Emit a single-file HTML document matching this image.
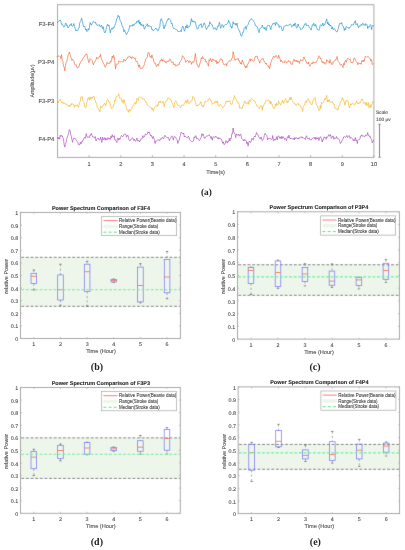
<!DOCTYPE html>
<html><head><meta charset="utf-8"><style>html,body{margin:0;padding:0;background:#fff;}svg{display:block;}text{text-rendering:geometricPrecision;}</style></head>
<body><svg width="405" height="550" viewBox="0 0 405 550">
<defs><filter id="bl" filterUnits="userSpaceOnUse" x="0" y="0" width="405" height="550" color-interpolation-filters="sRGB"><feConvolveMatrix order="3" kernelMatrix="1 10 1 10 100 10 1 10 1" edgeMode="duplicate"/></filter></defs>
<rect width="405" height="550" fill="#fff"/>
<g filter="url(#bl)">
<rect x="57.5" y="4.7" width="316.4" height="152.70000000000002" fill="none" stroke="#aaaaaa" stroke-width="1"/>
<line x1="89.14" y1="157.4" x2="89.14" y2="155.20000000000002" stroke="#a2a2a2" stroke-width="0.8"/>
<line x1="120.78" y1="157.4" x2="120.78" y2="155.20000000000002" stroke="#a2a2a2" stroke-width="0.8"/>
<line x1="152.42" y1="157.4" x2="152.42" y2="155.20000000000002" stroke="#a2a2a2" stroke-width="0.8"/>
<line x1="184.06" y1="157.4" x2="184.06" y2="155.20000000000002" stroke="#a2a2a2" stroke-width="0.8"/>
<line x1="215.70" y1="157.4" x2="215.70" y2="155.20000000000002" stroke="#a2a2a2" stroke-width="0.8"/>
<line x1="247.34" y1="157.4" x2="247.34" y2="155.20000000000002" stroke="#a2a2a2" stroke-width="0.8"/>
<line x1="278.98" y1="157.4" x2="278.98" y2="155.20000000000002" stroke="#a2a2a2" stroke-width="0.8"/>
<line x1="310.62" y1="157.4" x2="310.62" y2="155.20000000000002" stroke="#a2a2a2" stroke-width="0.8"/>
<line x1="342.26" y1="157.4" x2="342.26" y2="155.20000000000002" stroke="#a2a2a2" stroke-width="0.8"/>
<line x1="373.90" y1="157.4" x2="373.90" y2="155.20000000000002" stroke="#a2a2a2" stroke-width="0.8"/>
<line x1="379.5" y1="124.3" x2="379.5" y2="157.3" stroke="#777" stroke-width="0.9"/>
<line x1="378.2" y1="124.3" x2="380.8" y2="124.3" stroke="#777" stroke-width="0.8"/>
<line x1="378.2" y1="157.3" x2="380.8" y2="157.3" stroke="#777" stroke-width="0.8"/>
<rect x="20.5" y="257.3" width="159.9" height="49.0" fill="#eef6eb"/>
<line x1="20.5" y1="257.3" x2="180.4" y2="257.3" stroke="#7a7a7a" stroke-width="0.9" stroke-dasharray="2.9,1.73" stroke-dashoffset="-0.8"/>
<line x1="20.5" y1="306.3" x2="180.4" y2="306.3" stroke="#7a7a7a" stroke-width="0.9" stroke-dasharray="2.9,1.73" stroke-dashoffset="-0.8"/>
<line x1="33.83" y1="270" x2="33.83" y2="273.3" stroke="#8a8a8a" stroke-width="0.7" stroke-dasharray="2.2,2.2"/>
<line x1="33.83" y1="283.6" x2="33.83" y2="290" stroke="#8a8a8a" stroke-width="0.7" stroke-dasharray="2.2,2.2"/>
<line x1="32.62" y1="270" x2="35.03" y2="270" stroke="#444" stroke-width="0.6"/>
<line x1="32.62" y1="290" x2="35.03" y2="290" stroke="#444" stroke-width="0.6"/>
<rect x="31.03" y="273.3" width="5.6" height="10.30" fill="none" stroke="#7c7cf6" stroke-width="0.75"/>
<line x1="31.03" y1="276.3" x2="36.62" y2="276.3" stroke="#f27a60" stroke-width="0.9"/>
<line x1="60.48" y1="264.2" x2="60.48" y2="274.9" stroke="#8a8a8a" stroke-width="0.7" stroke-dasharray="2.2,2.2"/>
<line x1="60.48" y1="300" x2="60.48" y2="305.3" stroke="#8a8a8a" stroke-width="0.7" stroke-dasharray="2.2,2.2"/>
<line x1="59.27" y1="264.2" x2="61.68" y2="264.2" stroke="#444" stroke-width="0.6"/>
<line x1="59.27" y1="305.3" x2="61.68" y2="305.3" stroke="#444" stroke-width="0.6"/>
<rect x="57.68" y="274.9" width="5.6" height="25.10" fill="none" stroke="#7c7cf6" stroke-width="0.75"/>
<line x1="57.68" y1="289.7" x2="63.27" y2="289.7" stroke="#f27a60" stroke-width="0.9"/>
<line x1="87.12" y1="261.3" x2="87.12" y2="264.2" stroke="#8a8a8a" stroke-width="0.7" stroke-dasharray="2.2,2.2"/>
<line x1="87.12" y1="291.5" x2="87.12" y2="306" stroke="#8a8a8a" stroke-width="0.7" stroke-dasharray="2.2,2.2"/>
<line x1="85.92" y1="261.3" x2="88.33" y2="261.3" stroke="#444" stroke-width="0.6"/>
<line x1="85.92" y1="306" x2="88.33" y2="306" stroke="#444" stroke-width="0.6"/>
<rect x="84.33" y="264.2" width="5.6" height="27.30" fill="none" stroke="#7c7cf6" stroke-width="0.75"/>
<line x1="84.33" y1="271.7" x2="89.92" y2="271.7" stroke="#f27a60" stroke-width="0.9"/>
<line x1="113.78" y1="279" x2="113.78" y2="279.5" stroke="#8a8a8a" stroke-width="0.7" stroke-dasharray="2.2,2.2"/>
<line x1="113.78" y1="281.9" x2="113.78" y2="282.5" stroke="#8a8a8a" stroke-width="0.7" stroke-dasharray="2.2,2.2"/>
<line x1="112.58" y1="279" x2="114.98" y2="279" stroke="#444" stroke-width="0.6"/>
<line x1="112.58" y1="282.5" x2="114.98" y2="282.5" stroke="#444" stroke-width="0.6"/>
<rect x="110.98" y="279.5" width="5.6" height="2.40" fill="none" stroke="#7c7cf6" stroke-width="0.75"/>
<line x1="110.98" y1="280.5" x2="116.58" y2="280.5" stroke="#f27a60" stroke-width="0.9"/>
<line x1="140.43" y1="263.7" x2="140.43" y2="267.1" stroke="#8a8a8a" stroke-width="0.7" stroke-dasharray="2.2,2.2"/>
<line x1="140.43" y1="301.9" x2="140.43" y2="302.8" stroke="#8a8a8a" stroke-width="0.7" stroke-dasharray="2.2,2.2"/>
<line x1="139.23" y1="263.7" x2="141.62" y2="263.7" stroke="#444" stroke-width="0.6"/>
<line x1="139.23" y1="302.8" x2="141.62" y2="302.8" stroke="#444" stroke-width="0.6"/>
<rect x="137.62" y="267.1" width="5.6" height="34.80" fill="none" stroke="#7c7cf6" stroke-width="0.75"/>
<line x1="137.62" y1="285.5" x2="143.23" y2="285.5" stroke="#f27a60" stroke-width="0.9"/>
<line x1="167.08" y1="251.5" x2="167.08" y2="259.4" stroke="#8a8a8a" stroke-width="0.7" stroke-dasharray="2.2,2.2"/>
<line x1="167.08" y1="292.8" x2="167.08" y2="298.7" stroke="#8a8a8a" stroke-width="0.7" stroke-dasharray="2.2,2.2"/>
<line x1="165.88" y1="251.5" x2="168.28" y2="251.5" stroke="#444" stroke-width="0.6"/>
<line x1="165.88" y1="298.7" x2="168.28" y2="298.7" stroke="#444" stroke-width="0.6"/>
<rect x="164.28" y="259.4" width="5.6" height="33.40" fill="none" stroke="#7c7cf6" stroke-width="0.75"/>
<line x1="164.28" y1="277" x2="169.88" y2="277" stroke="#f27a60" stroke-width="0.9"/>
<line x1="20.5" y1="289.7" x2="180.4" y2="289.7" stroke="#74eaa0" stroke-width="1.15" stroke-dasharray="2.9,1.73" stroke-dashoffset="-0.6"/>
<rect x="20.5" y="212.4" width="159.9" height="126.1" fill="none" stroke="#a2a2a2" stroke-width="0.9"/>
<line x1="20.5" y1="338.50" x2="22.0" y2="338.50" stroke="#a2a2a2" stroke-width="0.6"/>
<line x1="180.4" y1="338.50" x2="178.9" y2="338.50" stroke="#a2a2a2" stroke-width="0.6"/>
<line x1="20.5" y1="325.89" x2="22.0" y2="325.89" stroke="#a2a2a2" stroke-width="0.6"/>
<line x1="180.4" y1="325.89" x2="178.9" y2="325.89" stroke="#a2a2a2" stroke-width="0.6"/>
<line x1="20.5" y1="313.28" x2="22.0" y2="313.28" stroke="#a2a2a2" stroke-width="0.6"/>
<line x1="180.4" y1="313.28" x2="178.9" y2="313.28" stroke="#a2a2a2" stroke-width="0.6"/>
<line x1="20.5" y1="300.67" x2="22.0" y2="300.67" stroke="#a2a2a2" stroke-width="0.6"/>
<line x1="180.4" y1="300.67" x2="178.9" y2="300.67" stroke="#a2a2a2" stroke-width="0.6"/>
<line x1="20.5" y1="288.06" x2="22.0" y2="288.06" stroke="#a2a2a2" stroke-width="0.6"/>
<line x1="180.4" y1="288.06" x2="178.9" y2="288.06" stroke="#a2a2a2" stroke-width="0.6"/>
<line x1="20.5" y1="275.45" x2="22.0" y2="275.45" stroke="#a2a2a2" stroke-width="0.6"/>
<line x1="180.4" y1="275.45" x2="178.9" y2="275.45" stroke="#a2a2a2" stroke-width="0.6"/>
<line x1="20.5" y1="262.84" x2="22.0" y2="262.84" stroke="#a2a2a2" stroke-width="0.6"/>
<line x1="180.4" y1="262.84" x2="178.9" y2="262.84" stroke="#a2a2a2" stroke-width="0.6"/>
<line x1="20.5" y1="250.23" x2="22.0" y2="250.23" stroke="#a2a2a2" stroke-width="0.6"/>
<line x1="180.4" y1="250.23" x2="178.9" y2="250.23" stroke="#a2a2a2" stroke-width="0.6"/>
<line x1="20.5" y1="237.62" x2="22.0" y2="237.62" stroke="#a2a2a2" stroke-width="0.6"/>
<line x1="180.4" y1="237.62" x2="178.9" y2="237.62" stroke="#a2a2a2" stroke-width="0.6"/>
<line x1="20.5" y1="225.01" x2="22.0" y2="225.01" stroke="#a2a2a2" stroke-width="0.6"/>
<line x1="180.4" y1="225.01" x2="178.9" y2="225.01" stroke="#a2a2a2" stroke-width="0.6"/>
<line x1="20.5" y1="212.40" x2="22.0" y2="212.40" stroke="#a2a2a2" stroke-width="0.6"/>
<line x1="180.4" y1="212.40" x2="178.9" y2="212.40" stroke="#a2a2a2" stroke-width="0.6"/>
<line x1="33.83" y1="338.5" x2="33.83" y2="337.0" stroke="#a2a2a2" stroke-width="0.6"/>
<line x1="33.83" y1="212.4" x2="33.83" y2="213.9" stroke="#a2a2a2" stroke-width="0.6"/>
<line x1="60.48" y1="338.5" x2="60.48" y2="337.0" stroke="#a2a2a2" stroke-width="0.6"/>
<line x1="60.48" y1="212.4" x2="60.48" y2="213.9" stroke="#a2a2a2" stroke-width="0.6"/>
<line x1="87.12" y1="338.5" x2="87.12" y2="337.0" stroke="#a2a2a2" stroke-width="0.6"/>
<line x1="87.12" y1="212.4" x2="87.12" y2="213.9" stroke="#a2a2a2" stroke-width="0.6"/>
<line x1="113.78" y1="338.5" x2="113.78" y2="337.0" stroke="#a2a2a2" stroke-width="0.6"/>
<line x1="113.78" y1="212.4" x2="113.78" y2="213.9" stroke="#a2a2a2" stroke-width="0.6"/>
<line x1="140.43" y1="338.5" x2="140.43" y2="337.0" stroke="#a2a2a2" stroke-width="0.6"/>
<line x1="140.43" y1="212.4" x2="140.43" y2="213.9" stroke="#a2a2a2" stroke-width="0.6"/>
<line x1="167.08" y1="338.5" x2="167.08" y2="337.0" stroke="#a2a2a2" stroke-width="0.6"/>
<line x1="167.08" y1="212.4" x2="167.08" y2="213.9" stroke="#a2a2a2" stroke-width="0.6"/>
<rect x="101.70" y="216.50" width="75.0" height="19.2" fill="#fff" stroke="#9a9a9a" stroke-width="0.6"/>
<line x1="103.40" y1="220.60" x2="117.70" y2="220.60" stroke="#f06060" stroke-width="0.8"/>
<rect x="103.40" y="224.60" width="14.3" height="3.6" fill="#eef6eb"/>
<line x1="103.40" y1="232.20" x2="117.70" y2="232.20" stroke="#58e486" stroke-width="1.0" stroke-dasharray="3,2.2"/>
<rect x="237.5" y="264.75" width="161.89999999999998" height="30.55000000000001" fill="#eef6eb"/>
<line x1="237.5" y1="264.75" x2="399.4" y2="264.75" stroke="#7a7a7a" stroke-width="0.9" stroke-dasharray="2.9,1.73" stroke-dashoffset="-0.8"/>
<line x1="237.5" y1="295.3" x2="399.4" y2="295.3" stroke="#7a7a7a" stroke-width="0.9" stroke-dasharray="2.9,1.73" stroke-dashoffset="-0.8"/>
<line x1="250.99" y1="267.2" x2="250.99" y2="267.6" stroke="#8a8a8a" stroke-width="0.7" stroke-dasharray="2.2,2.2"/>
<line x1="250.99" y1="283.4" x2="250.99" y2="294.5" stroke="#8a8a8a" stroke-width="0.7" stroke-dasharray="2.2,2.2"/>
<line x1="249.79" y1="267.2" x2="252.19" y2="267.2" stroke="#444" stroke-width="0.6"/>
<line x1="249.79" y1="294.5" x2="252.19" y2="294.5" stroke="#444" stroke-width="0.6"/>
<rect x="248.19" y="267.6" width="5.6" height="15.80" fill="none" stroke="#7c7cf6" stroke-width="0.75"/>
<line x1="248.19" y1="270.5" x2="253.79" y2="270.5" stroke="#f27a60" stroke-width="0.9"/>
<line x1="277.98" y1="260.2" x2="277.98" y2="261" stroke="#8a8a8a" stroke-width="0.7" stroke-dasharray="2.2,2.2"/>
<line x1="277.98" y1="286.5" x2="277.98" y2="288.3" stroke="#8a8a8a" stroke-width="0.7" stroke-dasharray="2.2,2.2"/>
<line x1="276.78" y1="260.2" x2="279.18" y2="260.2" stroke="#444" stroke-width="0.6"/>
<line x1="276.78" y1="288.3" x2="279.18" y2="288.3" stroke="#444" stroke-width="0.6"/>
<rect x="275.18" y="261" width="5.6" height="25.50" fill="none" stroke="#7c7cf6" stroke-width="0.75"/>
<line x1="275.18" y1="272.5" x2="280.78" y2="272.5" stroke="#f27a60" stroke-width="0.9"/>
<line x1="304.96" y1="263.7" x2="304.96" y2="267.6" stroke="#8a8a8a" stroke-width="0.7" stroke-dasharray="2.2,2.2"/>
<line x1="304.96" y1="281.4" x2="304.96" y2="285.9" stroke="#8a8a8a" stroke-width="0.7" stroke-dasharray="2.2,2.2"/>
<line x1="303.76" y1="263.7" x2="306.16" y2="263.7" stroke="#444" stroke-width="0.6"/>
<line x1="303.76" y1="285.9" x2="306.16" y2="285.9" stroke="#444" stroke-width="0.6"/>
<rect x="302.16" y="267.6" width="5.6" height="13.80" fill="none" stroke="#7c7cf6" stroke-width="0.75"/>
<line x1="302.16" y1="274" x2="307.76" y2="274" stroke="#f27a60" stroke-width="0.9"/>
<line x1="331.94" y1="263.9" x2="331.94" y2="271.1" stroke="#8a8a8a" stroke-width="0.7" stroke-dasharray="2.2,2.2"/>
<line x1="331.94" y1="285.2" x2="331.94" y2="287.3" stroke="#8a8a8a" stroke-width="0.7" stroke-dasharray="2.2,2.2"/>
<line x1="330.74" y1="263.9" x2="333.14" y2="263.9" stroke="#444" stroke-width="0.6"/>
<line x1="330.74" y1="287.3" x2="333.14" y2="287.3" stroke="#444" stroke-width="0.6"/>
<rect x="329.14" y="271.1" width="5.6" height="14.10" fill="none" stroke="#7c7cf6" stroke-width="0.75"/>
<line x1="329.14" y1="281.1" x2="334.74" y2="281.1" stroke="#f27a60" stroke-width="0.9"/>
<line x1="358.92" y1="285.5" x2="358.92" y2="288.9" stroke="#8a8a8a" stroke-width="0.7" stroke-dasharray="2.2,2.2"/>
<line x1="357.72" y1="277.3" x2="360.12" y2="277.3" stroke="#444" stroke-width="0.6"/>
<line x1="357.72" y1="288.9" x2="360.12" y2="288.9" stroke="#444" stroke-width="0.6"/>
<rect x="356.12" y="277.3" width="5.6" height="8.20" fill="none" stroke="#7c7cf6" stroke-width="0.75"/>
<line x1="356.12" y1="279.9" x2="361.72" y2="279.9" stroke="#f27a60" stroke-width="0.9"/>
<line x1="385.91" y1="259.6" x2="385.91" y2="263.3" stroke="#8a8a8a" stroke-width="0.7" stroke-dasharray="2.2,2.2"/>
<line x1="385.91" y1="279.3" x2="385.91" y2="282.4" stroke="#8a8a8a" stroke-width="0.7" stroke-dasharray="2.2,2.2"/>
<line x1="384.71" y1="259.6" x2="387.11" y2="259.6" stroke="#444" stroke-width="0.6"/>
<line x1="384.71" y1="282.4" x2="387.11" y2="282.4" stroke="#444" stroke-width="0.6"/>
<rect x="383.11" y="263.3" width="5.6" height="16.00" fill="none" stroke="#7c7cf6" stroke-width="0.75"/>
<line x1="383.11" y1="270.5" x2="388.71" y2="270.5" stroke="#f27a60" stroke-width="0.9"/>
<line x1="237.5" y1="276.8" x2="399.4" y2="276.8" stroke="#74eaa0" stroke-width="1.15" stroke-dasharray="2.9,1.73" stroke-dashoffset="-0.6"/>
<rect x="237.5" y="211.8" width="161.89999999999998" height="127.30000000000001" fill="none" stroke="#a2a2a2" stroke-width="0.9"/>
<line x1="237.5" y1="339.10" x2="239.0" y2="339.10" stroke="#a2a2a2" stroke-width="0.6"/>
<line x1="399.4" y1="339.10" x2="397.9" y2="339.10" stroke="#a2a2a2" stroke-width="0.6"/>
<line x1="237.5" y1="326.37" x2="239.0" y2="326.37" stroke="#a2a2a2" stroke-width="0.6"/>
<line x1="399.4" y1="326.37" x2="397.9" y2="326.37" stroke="#a2a2a2" stroke-width="0.6"/>
<line x1="237.5" y1="313.64" x2="239.0" y2="313.64" stroke="#a2a2a2" stroke-width="0.6"/>
<line x1="399.4" y1="313.64" x2="397.9" y2="313.64" stroke="#a2a2a2" stroke-width="0.6"/>
<line x1="237.5" y1="300.91" x2="239.0" y2="300.91" stroke="#a2a2a2" stroke-width="0.6"/>
<line x1="399.4" y1="300.91" x2="397.9" y2="300.91" stroke="#a2a2a2" stroke-width="0.6"/>
<line x1="237.5" y1="288.18" x2="239.0" y2="288.18" stroke="#a2a2a2" stroke-width="0.6"/>
<line x1="399.4" y1="288.18" x2="397.9" y2="288.18" stroke="#a2a2a2" stroke-width="0.6"/>
<line x1="237.5" y1="275.45" x2="239.0" y2="275.45" stroke="#a2a2a2" stroke-width="0.6"/>
<line x1="399.4" y1="275.45" x2="397.9" y2="275.45" stroke="#a2a2a2" stroke-width="0.6"/>
<line x1="237.5" y1="262.72" x2="239.0" y2="262.72" stroke="#a2a2a2" stroke-width="0.6"/>
<line x1="399.4" y1="262.72" x2="397.9" y2="262.72" stroke="#a2a2a2" stroke-width="0.6"/>
<line x1="237.5" y1="249.99" x2="239.0" y2="249.99" stroke="#a2a2a2" stroke-width="0.6"/>
<line x1="399.4" y1="249.99" x2="397.9" y2="249.99" stroke="#a2a2a2" stroke-width="0.6"/>
<line x1="237.5" y1="237.26" x2="239.0" y2="237.26" stroke="#a2a2a2" stroke-width="0.6"/>
<line x1="399.4" y1="237.26" x2="397.9" y2="237.26" stroke="#a2a2a2" stroke-width="0.6"/>
<line x1="237.5" y1="224.53" x2="239.0" y2="224.53" stroke="#a2a2a2" stroke-width="0.6"/>
<line x1="399.4" y1="224.53" x2="397.9" y2="224.53" stroke="#a2a2a2" stroke-width="0.6"/>
<line x1="237.5" y1="211.80" x2="239.0" y2="211.80" stroke="#a2a2a2" stroke-width="0.6"/>
<line x1="399.4" y1="211.80" x2="397.9" y2="211.80" stroke="#a2a2a2" stroke-width="0.6"/>
<line x1="250.99" y1="339.1" x2="250.99" y2="337.6" stroke="#a2a2a2" stroke-width="0.6"/>
<line x1="250.99" y1="211.8" x2="250.99" y2="213.3" stroke="#a2a2a2" stroke-width="0.6"/>
<line x1="277.98" y1="339.1" x2="277.98" y2="337.6" stroke="#a2a2a2" stroke-width="0.6"/>
<line x1="277.98" y1="211.8" x2="277.98" y2="213.3" stroke="#a2a2a2" stroke-width="0.6"/>
<line x1="304.96" y1="339.1" x2="304.96" y2="337.6" stroke="#a2a2a2" stroke-width="0.6"/>
<line x1="304.96" y1="211.8" x2="304.96" y2="213.3" stroke="#a2a2a2" stroke-width="0.6"/>
<line x1="331.94" y1="339.1" x2="331.94" y2="337.6" stroke="#a2a2a2" stroke-width="0.6"/>
<line x1="331.94" y1="211.8" x2="331.94" y2="213.3" stroke="#a2a2a2" stroke-width="0.6"/>
<line x1="358.92" y1="339.1" x2="358.92" y2="337.6" stroke="#a2a2a2" stroke-width="0.6"/>
<line x1="358.92" y1="211.8" x2="358.92" y2="213.3" stroke="#a2a2a2" stroke-width="0.6"/>
<line x1="385.91" y1="339.1" x2="385.91" y2="337.6" stroke="#a2a2a2" stroke-width="0.6"/>
<line x1="385.91" y1="211.8" x2="385.91" y2="213.3" stroke="#a2a2a2" stroke-width="0.6"/>
<rect x="320.70" y="215.90" width="75.0" height="19.2" fill="#fff" stroke="#9a9a9a" stroke-width="0.6"/>
<line x1="322.40" y1="220.00" x2="336.70" y2="220.00" stroke="#f06060" stroke-width="0.8"/>
<rect x="322.40" y="224.00" width="14.3" height="3.6" fill="#eef6eb"/>
<line x1="322.40" y1="231.60" x2="336.70" y2="231.60" stroke="#58e486" stroke-width="1.0" stroke-dasharray="3,2.2"/>
<rect x="20.5" y="437.9" width="159.8" height="40.5" fill="#eef6eb"/>
<line x1="20.5" y1="437.9" x2="180.3" y2="437.9" stroke="#7a7a7a" stroke-width="0.9" stroke-dasharray="2.9,1.73" stroke-dashoffset="-0.8"/>
<line x1="20.5" y1="478.4" x2="180.3" y2="478.4" stroke="#7a7a7a" stroke-width="0.9" stroke-dasharray="2.9,1.73" stroke-dashoffset="-0.8"/>
<line x1="33.82" y1="449.3" x2="33.82" y2="451.5" stroke="#8a8a8a" stroke-width="0.7" stroke-dasharray="2.2,2.2"/>
<line x1="33.82" y1="468.7" x2="33.82" y2="475.6" stroke="#8a8a8a" stroke-width="0.7" stroke-dasharray="2.2,2.2"/>
<line x1="32.62" y1="449.3" x2="35.02" y2="449.3" stroke="#444" stroke-width="0.6"/>
<line x1="32.62" y1="475.6" x2="35.02" y2="475.6" stroke="#444" stroke-width="0.6"/>
<rect x="31.02" y="451.5" width="5.6" height="17.20" fill="none" stroke="#7c7cf6" stroke-width="0.75"/>
<line x1="31.02" y1="457.2" x2="36.62" y2="457.2" stroke="#f27a60" stroke-width="0.9"/>
<line x1="60.45" y1="444" x2="60.45" y2="445.3" stroke="#8a8a8a" stroke-width="0.7" stroke-dasharray="2.2,2.2"/>
<line x1="60.45" y1="458.4" x2="60.45" y2="460.8" stroke="#8a8a8a" stroke-width="0.7" stroke-dasharray="2.2,2.2"/>
<line x1="59.25" y1="444" x2="61.65" y2="444" stroke="#444" stroke-width="0.6"/>
<line x1="59.25" y1="460.8" x2="61.65" y2="460.8" stroke="#444" stroke-width="0.6"/>
<rect x="57.65" y="445.3" width="5.6" height="13.10" fill="none" stroke="#7c7cf6" stroke-width="0.75"/>
<line x1="57.65" y1="450.5" x2="63.25" y2="450.5" stroke="#f27a60" stroke-width="0.9"/>
<line x1="87.08" y1="442.2" x2="87.08" y2="442.6" stroke="#8a8a8a" stroke-width="0.7" stroke-dasharray="2.2,2.2"/>
<line x1="87.08" y1="454.2" x2="87.08" y2="454.8" stroke="#8a8a8a" stroke-width="0.7" stroke-dasharray="2.2,2.2"/>
<line x1="85.88" y1="442.2" x2="88.28" y2="442.2" stroke="#444" stroke-width="0.6"/>
<line x1="85.88" y1="454.8" x2="88.28" y2="454.8" stroke="#444" stroke-width="0.6"/>
<rect x="84.28" y="442.6" width="5.6" height="11.60" fill="none" stroke="#7c7cf6" stroke-width="0.75"/>
<line x1="84.28" y1="448" x2="89.88" y2="448" stroke="#f27a60" stroke-width="0.9"/>
<line x1="113.72" y1="447" x2="113.72" y2="447.4" stroke="#8a8a8a" stroke-width="0.7" stroke-dasharray="2.2,2.2"/>
<line x1="113.72" y1="450.7" x2="113.72" y2="451.2" stroke="#8a8a8a" stroke-width="0.7" stroke-dasharray="2.2,2.2"/>
<line x1="112.52" y1="447" x2="114.92" y2="447" stroke="#444" stroke-width="0.6"/>
<line x1="112.52" y1="451.2" x2="114.92" y2="451.2" stroke="#444" stroke-width="0.6"/>
<rect x="110.92" y="447.4" width="5.6" height="3.30" fill="none" stroke="#7c7cf6" stroke-width="0.75"/>
<line x1="110.92" y1="448.8" x2="116.52" y2="448.8" stroke="#f27a60" stroke-width="0.9"/>
<line x1="140.35" y1="435.5" x2="140.35" y2="440.7" stroke="#8a8a8a" stroke-width="0.7" stroke-dasharray="2.2,2.2"/>
<line x1="140.35" y1="451.25" x2="140.35" y2="454.2" stroke="#8a8a8a" stroke-width="0.7" stroke-dasharray="2.2,2.2"/>
<line x1="139.15" y1="435.5" x2="141.55" y2="435.5" stroke="#444" stroke-width="0.6"/>
<line x1="139.15" y1="454.2" x2="141.55" y2="454.2" stroke="#444" stroke-width="0.6"/>
<rect x="137.55" y="440.7" width="5.6" height="10.55" fill="none" stroke="#7c7cf6" stroke-width="0.75"/>
<line x1="137.55" y1="447.2" x2="143.15" y2="447.2" stroke="#f27a60" stroke-width="0.9"/>
<line x1="166.98" y1="427.6" x2="166.98" y2="429.5" stroke="#8a8a8a" stroke-width="0.7" stroke-dasharray="2.2,2.2"/>
<line x1="166.98" y1="450.2" x2="166.98" y2="454" stroke="#8a8a8a" stroke-width="0.7" stroke-dasharray="2.2,2.2"/>
<line x1="165.78" y1="427.6" x2="168.18" y2="427.6" stroke="#444" stroke-width="0.6"/>
<line x1="165.78" y1="454" x2="168.18" y2="454" stroke="#444" stroke-width="0.6"/>
<rect x="164.18" y="429.5" width="5.6" height="20.70" fill="none" stroke="#7c7cf6" stroke-width="0.75"/>
<line x1="164.18" y1="438.5" x2="169.78" y2="438.5" stroke="#f27a60" stroke-width="0.9"/>
<line x1="20.5" y1="454.2" x2="180.3" y2="454.2" stroke="#74eaa0" stroke-width="1.15" stroke-dasharray="2.9,1.73" stroke-dashoffset="-0.6"/>
<rect x="20.5" y="387.5" width="159.8" height="125.79999999999995" fill="none" stroke="#a2a2a2" stroke-width="0.9"/>
<line x1="20.5" y1="513.30" x2="22.0" y2="513.30" stroke="#a2a2a2" stroke-width="0.6"/>
<line x1="180.3" y1="513.30" x2="178.8" y2="513.30" stroke="#a2a2a2" stroke-width="0.6"/>
<line x1="20.5" y1="500.72" x2="22.0" y2="500.72" stroke="#a2a2a2" stroke-width="0.6"/>
<line x1="180.3" y1="500.72" x2="178.8" y2="500.72" stroke="#a2a2a2" stroke-width="0.6"/>
<line x1="20.5" y1="488.14" x2="22.0" y2="488.14" stroke="#a2a2a2" stroke-width="0.6"/>
<line x1="180.3" y1="488.14" x2="178.8" y2="488.14" stroke="#a2a2a2" stroke-width="0.6"/>
<line x1="20.5" y1="475.56" x2="22.0" y2="475.56" stroke="#a2a2a2" stroke-width="0.6"/>
<line x1="180.3" y1="475.56" x2="178.8" y2="475.56" stroke="#a2a2a2" stroke-width="0.6"/>
<line x1="20.5" y1="462.98" x2="22.0" y2="462.98" stroke="#a2a2a2" stroke-width="0.6"/>
<line x1="180.3" y1="462.98" x2="178.8" y2="462.98" stroke="#a2a2a2" stroke-width="0.6"/>
<line x1="20.5" y1="450.40" x2="22.0" y2="450.40" stroke="#a2a2a2" stroke-width="0.6"/>
<line x1="180.3" y1="450.40" x2="178.8" y2="450.40" stroke="#a2a2a2" stroke-width="0.6"/>
<line x1="20.5" y1="437.82" x2="22.0" y2="437.82" stroke="#a2a2a2" stroke-width="0.6"/>
<line x1="180.3" y1="437.82" x2="178.8" y2="437.82" stroke="#a2a2a2" stroke-width="0.6"/>
<line x1="20.5" y1="425.24" x2="22.0" y2="425.24" stroke="#a2a2a2" stroke-width="0.6"/>
<line x1="180.3" y1="425.24" x2="178.8" y2="425.24" stroke="#a2a2a2" stroke-width="0.6"/>
<line x1="20.5" y1="412.66" x2="22.0" y2="412.66" stroke="#a2a2a2" stroke-width="0.6"/>
<line x1="180.3" y1="412.66" x2="178.8" y2="412.66" stroke="#a2a2a2" stroke-width="0.6"/>
<line x1="20.5" y1="400.08" x2="22.0" y2="400.08" stroke="#a2a2a2" stroke-width="0.6"/>
<line x1="180.3" y1="400.08" x2="178.8" y2="400.08" stroke="#a2a2a2" stroke-width="0.6"/>
<line x1="20.5" y1="387.50" x2="22.0" y2="387.50" stroke="#a2a2a2" stroke-width="0.6"/>
<line x1="180.3" y1="387.50" x2="178.8" y2="387.50" stroke="#a2a2a2" stroke-width="0.6"/>
<line x1="33.82" y1="513.3" x2="33.82" y2="511.79999999999995" stroke="#a2a2a2" stroke-width="0.6"/>
<line x1="33.82" y1="387.5" x2="33.82" y2="389.0" stroke="#a2a2a2" stroke-width="0.6"/>
<line x1="60.45" y1="513.3" x2="60.45" y2="511.79999999999995" stroke="#a2a2a2" stroke-width="0.6"/>
<line x1="60.45" y1="387.5" x2="60.45" y2="389.0" stroke="#a2a2a2" stroke-width="0.6"/>
<line x1="87.08" y1="513.3" x2="87.08" y2="511.79999999999995" stroke="#a2a2a2" stroke-width="0.6"/>
<line x1="87.08" y1="387.5" x2="87.08" y2="389.0" stroke="#a2a2a2" stroke-width="0.6"/>
<line x1="113.72" y1="513.3" x2="113.72" y2="511.79999999999995" stroke="#a2a2a2" stroke-width="0.6"/>
<line x1="113.72" y1="387.5" x2="113.72" y2="389.0" stroke="#a2a2a2" stroke-width="0.6"/>
<line x1="140.35" y1="513.3" x2="140.35" y2="511.79999999999995" stroke="#a2a2a2" stroke-width="0.6"/>
<line x1="140.35" y1="387.5" x2="140.35" y2="389.0" stroke="#a2a2a2" stroke-width="0.6"/>
<line x1="166.98" y1="513.3" x2="166.98" y2="511.79999999999995" stroke="#a2a2a2" stroke-width="0.6"/>
<line x1="166.98" y1="387.5" x2="166.98" y2="389.0" stroke="#a2a2a2" stroke-width="0.6"/>
<rect x="101.60" y="391.60" width="75.0" height="19.2" fill="#fff" stroke="#9a9a9a" stroke-width="0.6"/>
<line x1="103.30" y1="395.70" x2="117.60" y2="395.70" stroke="#f06060" stroke-width="0.8"/>
<rect x="103.30" y="399.70" width="14.3" height="3.6" fill="#eef6eb"/>
<line x1="103.30" y1="407.30" x2="117.60" y2="407.30" stroke="#58e486" stroke-width="1.0" stroke-dasharray="3,2.2"/>
<rect x="238.15" y="444.4" width="161.45000000000002" height="24.850000000000023" fill="#eef6eb"/>
<line x1="238.15" y1="444.4" x2="399.6" y2="444.4" stroke="#7a7a7a" stroke-width="0.9" stroke-dasharray="2.9,1.73" stroke-dashoffset="-0.8"/>
<line x1="238.15" y1="469.25" x2="399.6" y2="469.25" stroke="#7a7a7a" stroke-width="0.9" stroke-dasharray="2.9,1.73" stroke-dashoffset="-0.8"/>
<line x1="251.60" y1="442.4" x2="251.60" y2="444.3" stroke="#8a8a8a" stroke-width="0.7" stroke-dasharray="2.2,2.2"/>
<line x1="251.60" y1="470.2" x2="251.60" y2="481.5" stroke="#8a8a8a" stroke-width="0.7" stroke-dasharray="2.2,2.2"/>
<line x1="250.40" y1="442.4" x2="252.80" y2="442.4" stroke="#444" stroke-width="0.6"/>
<line x1="250.40" y1="481.5" x2="252.80" y2="481.5" stroke="#444" stroke-width="0.6"/>
<rect x="248.80" y="444.3" width="5.6" height="25.90" fill="none" stroke="#7c7cf6" stroke-width="0.75"/>
<line x1="248.80" y1="452.6" x2="254.40" y2="452.6" stroke="#f27a60" stroke-width="0.9"/>
<line x1="278.51" y1="424.3" x2="278.51" y2="430.4" stroke="#8a8a8a" stroke-width="0.7" stroke-dasharray="2.2,2.2"/>
<line x1="278.51" y1="446.8" x2="278.51" y2="447.5" stroke="#8a8a8a" stroke-width="0.7" stroke-dasharray="2.2,2.2"/>
<line x1="277.31" y1="424.3" x2="279.71" y2="424.3" stroke="#444" stroke-width="0.6"/>
<line x1="277.31" y1="447.5" x2="279.71" y2="447.5" stroke="#444" stroke-width="0.6"/>
<rect x="275.71" y="430.4" width="5.6" height="16.40" fill="none" stroke="#7c7cf6" stroke-width="0.75"/>
<line x1="275.71" y1="441.3" x2="281.31" y2="441.3" stroke="#f27a60" stroke-width="0.9"/>
<line x1="305.42" y1="445.1" x2="305.42" y2="449.9" stroke="#8a8a8a" stroke-width="0.7" stroke-dasharray="2.2,2.2"/>
<line x1="305.42" y1="458.9" x2="305.42" y2="461.5" stroke="#8a8a8a" stroke-width="0.7" stroke-dasharray="2.2,2.2"/>
<line x1="304.22" y1="445.1" x2="306.62" y2="445.1" stroke="#444" stroke-width="0.6"/>
<line x1="304.22" y1="461.5" x2="306.62" y2="461.5" stroke="#444" stroke-width="0.6"/>
<rect x="302.62" y="449.9" width="5.6" height="9.00" fill="none" stroke="#7c7cf6" stroke-width="0.75"/>
<line x1="302.62" y1="455.4" x2="308.22" y2="455.4" stroke="#f27a60" stroke-width="0.9"/>
<line x1="332.33" y1="431.5" x2="332.33" y2="441.7" stroke="#8a8a8a" stroke-width="0.7" stroke-dasharray="2.2,2.2"/>
<line x1="332.33" y1="460.5" x2="332.33" y2="463.1" stroke="#8a8a8a" stroke-width="0.7" stroke-dasharray="2.2,2.2"/>
<line x1="331.13" y1="431.5" x2="333.53" y2="431.5" stroke="#444" stroke-width="0.6"/>
<line x1="331.13" y1="463.1" x2="333.53" y2="463.1" stroke="#444" stroke-width="0.6"/>
<rect x="329.53" y="441.7" width="5.6" height="18.80" fill="none" stroke="#7c7cf6" stroke-width="0.75"/>
<line x1="329.53" y1="454.6" x2="335.13" y2="454.6" stroke="#f27a60" stroke-width="0.9"/>
<line x1="359.24" y1="439.4" x2="359.24" y2="444.1" stroke="#8a8a8a" stroke-width="0.7" stroke-dasharray="2.2,2.2"/>
<line x1="359.24" y1="458.9" x2="359.24" y2="466.4" stroke="#8a8a8a" stroke-width="0.7" stroke-dasharray="2.2,2.2"/>
<line x1="358.04" y1="439.4" x2="360.44" y2="439.4" stroke="#444" stroke-width="0.6"/>
<line x1="358.04" y1="466.4" x2="360.44" y2="466.4" stroke="#444" stroke-width="0.6"/>
<rect x="356.44" y="444.1" width="5.6" height="14.80" fill="none" stroke="#7c7cf6" stroke-width="0.75"/>
<line x1="356.44" y1="450.2" x2="362.04" y2="450.2" stroke="#f27a60" stroke-width="0.9"/>
<line x1="386.15" y1="442" x2="386.15" y2="443.1" stroke="#8a8a8a" stroke-width="0.7" stroke-dasharray="2.2,2.2"/>
<line x1="386.15" y1="452.2" x2="386.15" y2="456" stroke="#8a8a8a" stroke-width="0.7" stroke-dasharray="2.2,2.2"/>
<line x1="384.95" y1="442" x2="387.35" y2="442" stroke="#444" stroke-width="0.6"/>
<line x1="384.95" y1="456" x2="387.35" y2="456" stroke="#444" stroke-width="0.6"/>
<rect x="383.35" y="443.1" width="5.6" height="9.10" fill="none" stroke="#7c7cf6" stroke-width="0.75"/>
<line x1="383.35" y1="446.1" x2="388.95" y2="446.1" stroke="#f27a60" stroke-width="0.9"/>
<line x1="238.15" y1="452.9" x2="399.6" y2="452.9" stroke="#74eaa0" stroke-width="1.15" stroke-dasharray="2.9,1.73" stroke-dashoffset="-0.6"/>
<rect x="238.15" y="386.9" width="161.45000000000002" height="126.70000000000005" fill="none" stroke="#a2a2a2" stroke-width="0.9"/>
<line x1="238.15" y1="513.60" x2="239.65" y2="513.60" stroke="#a2a2a2" stroke-width="0.6"/>
<line x1="399.6" y1="513.60" x2="398.1" y2="513.60" stroke="#a2a2a2" stroke-width="0.6"/>
<line x1="238.15" y1="500.93" x2="239.65" y2="500.93" stroke="#a2a2a2" stroke-width="0.6"/>
<line x1="399.6" y1="500.93" x2="398.1" y2="500.93" stroke="#a2a2a2" stroke-width="0.6"/>
<line x1="238.15" y1="488.26" x2="239.65" y2="488.26" stroke="#a2a2a2" stroke-width="0.6"/>
<line x1="399.6" y1="488.26" x2="398.1" y2="488.26" stroke="#a2a2a2" stroke-width="0.6"/>
<line x1="238.15" y1="475.59" x2="239.65" y2="475.59" stroke="#a2a2a2" stroke-width="0.6"/>
<line x1="399.6" y1="475.59" x2="398.1" y2="475.59" stroke="#a2a2a2" stroke-width="0.6"/>
<line x1="238.15" y1="462.92" x2="239.65" y2="462.92" stroke="#a2a2a2" stroke-width="0.6"/>
<line x1="399.6" y1="462.92" x2="398.1" y2="462.92" stroke="#a2a2a2" stroke-width="0.6"/>
<line x1="238.15" y1="450.25" x2="239.65" y2="450.25" stroke="#a2a2a2" stroke-width="0.6"/>
<line x1="399.6" y1="450.25" x2="398.1" y2="450.25" stroke="#a2a2a2" stroke-width="0.6"/>
<line x1="238.15" y1="437.58" x2="239.65" y2="437.58" stroke="#a2a2a2" stroke-width="0.6"/>
<line x1="399.6" y1="437.58" x2="398.1" y2="437.58" stroke="#a2a2a2" stroke-width="0.6"/>
<line x1="238.15" y1="424.91" x2="239.65" y2="424.91" stroke="#a2a2a2" stroke-width="0.6"/>
<line x1="399.6" y1="424.91" x2="398.1" y2="424.91" stroke="#a2a2a2" stroke-width="0.6"/>
<line x1="238.15" y1="412.24" x2="239.65" y2="412.24" stroke="#a2a2a2" stroke-width="0.6"/>
<line x1="399.6" y1="412.24" x2="398.1" y2="412.24" stroke="#a2a2a2" stroke-width="0.6"/>
<line x1="238.15" y1="399.57" x2="239.65" y2="399.57" stroke="#a2a2a2" stroke-width="0.6"/>
<line x1="399.6" y1="399.57" x2="398.1" y2="399.57" stroke="#a2a2a2" stroke-width="0.6"/>
<line x1="238.15" y1="386.90" x2="239.65" y2="386.90" stroke="#a2a2a2" stroke-width="0.6"/>
<line x1="399.6" y1="386.90" x2="398.1" y2="386.90" stroke="#a2a2a2" stroke-width="0.6"/>
<line x1="251.60" y1="513.6" x2="251.60" y2="512.1" stroke="#a2a2a2" stroke-width="0.6"/>
<line x1="251.60" y1="386.9" x2="251.60" y2="388.4" stroke="#a2a2a2" stroke-width="0.6"/>
<line x1="278.51" y1="513.6" x2="278.51" y2="512.1" stroke="#a2a2a2" stroke-width="0.6"/>
<line x1="278.51" y1="386.9" x2="278.51" y2="388.4" stroke="#a2a2a2" stroke-width="0.6"/>
<line x1="305.42" y1="513.6" x2="305.42" y2="512.1" stroke="#a2a2a2" stroke-width="0.6"/>
<line x1="305.42" y1="386.9" x2="305.42" y2="388.4" stroke="#a2a2a2" stroke-width="0.6"/>
<line x1="332.33" y1="513.6" x2="332.33" y2="512.1" stroke="#a2a2a2" stroke-width="0.6"/>
<line x1="332.33" y1="386.9" x2="332.33" y2="388.4" stroke="#a2a2a2" stroke-width="0.6"/>
<line x1="359.24" y1="513.6" x2="359.24" y2="512.1" stroke="#a2a2a2" stroke-width="0.6"/>
<line x1="359.24" y1="386.9" x2="359.24" y2="388.4" stroke="#a2a2a2" stroke-width="0.6"/>
<line x1="386.15" y1="513.6" x2="386.15" y2="512.1" stroke="#a2a2a2" stroke-width="0.6"/>
<line x1="386.15" y1="386.9" x2="386.15" y2="388.4" stroke="#a2a2a2" stroke-width="0.6"/>
<rect x="320.90" y="391.00" width="75.0" height="19.2" fill="#fff" stroke="#9a9a9a" stroke-width="0.6"/>
<line x1="322.60" y1="395.10" x2="336.90" y2="395.10" stroke="#f06060" stroke-width="0.8"/>
<rect x="322.60" y="399.10" width="14.3" height="3.6" fill="#eef6eb"/>
<line x1="322.60" y1="406.70" x2="336.90" y2="406.70" stroke="#58e486" stroke-width="1.0" stroke-dasharray="3,2.2"/>
</g>
<text x="89.14" y="166.3" font-size="5.6" text-anchor="middle" fill="#484848" font-family="Liberation Sans, Arial, sans-serif" stroke="#666" stroke-width="0.12">1</text>
<text x="120.78" y="166.3" font-size="5.6" text-anchor="middle" fill="#484848" font-family="Liberation Sans, Arial, sans-serif" stroke="#666" stroke-width="0.12">2</text>
<text x="152.42" y="166.3" font-size="5.6" text-anchor="middle" fill="#484848" font-family="Liberation Sans, Arial, sans-serif" stroke="#666" stroke-width="0.12">3</text>
<text x="184.06" y="166.3" font-size="5.6" text-anchor="middle" fill="#484848" font-family="Liberation Sans, Arial, sans-serif" stroke="#666" stroke-width="0.12">4</text>
<text x="215.70" y="166.3" font-size="5.6" text-anchor="middle" fill="#484848" font-family="Liberation Sans, Arial, sans-serif" stroke="#666" stroke-width="0.12">5</text>
<text x="247.34" y="166.3" font-size="5.6" text-anchor="middle" fill="#484848" font-family="Liberation Sans, Arial, sans-serif" stroke="#666" stroke-width="0.12">6</text>
<text x="278.98" y="166.3" font-size="5.6" text-anchor="middle" fill="#484848" font-family="Liberation Sans, Arial, sans-serif" stroke="#666" stroke-width="0.12">7</text>
<text x="310.62" y="166.3" font-size="5.6" text-anchor="middle" fill="#484848" font-family="Liberation Sans, Arial, sans-serif" stroke="#666" stroke-width="0.12">8</text>
<text x="342.26" y="166.3" font-size="5.6" text-anchor="middle" fill="#484848" font-family="Liberation Sans, Arial, sans-serif" stroke="#666" stroke-width="0.12">9</text>
<text x="373.90" y="166.3" font-size="5.6" text-anchor="middle" fill="#484848" font-family="Liberation Sans, Arial, sans-serif" stroke="#666" stroke-width="0.12">10</text>
<text x="215.6" y="174.3" font-size="5.6" text-anchor="middle" fill="#484848" font-family="Liberation Sans, Arial, sans-serif" stroke="#666" stroke-width="0.12">Time(s)</text>
<text x="54.3" y="26.2" font-size="5.85" text-anchor="end" fill="#484848" font-family="Liberation Sans, Arial, sans-serif" stroke="#666" stroke-width="0.12">F3-F4</text>
<text x="54.3" y="64.1" font-size="5.85" text-anchor="end" fill="#484848" font-family="Liberation Sans, Arial, sans-serif" stroke="#666" stroke-width="0.12">P3-P4</text>
<text x="54.3" y="102.6" font-size="5.85" text-anchor="end" fill="#484848" font-family="Liberation Sans, Arial, sans-serif" stroke="#666" stroke-width="0.12">F3-P3</text>
<text x="54.3" y="140.8" font-size="5.85" text-anchor="end" fill="#484848" font-family="Liberation Sans, Arial, sans-serif" stroke="#666" stroke-width="0.12">F4-P4</text>
<text transform="translate(34.4,81) rotate(-90)" x="0" y="0" font-size="5.3" text-anchor="middle" fill="#484848" font-family="Liberation Sans, Arial, sans-serif" stroke="#666" stroke-width="0.12">Amplitude(µv)</text>
<text x="375.9" y="114.1" font-size="4.85" fill="#484848" font-family="Liberation Sans, Arial, sans-serif" stroke="#666" stroke-width="0.12">Scale</text>
<text x="376.0" y="121.2" font-size="4.85" fill="#484848" font-family="Liberation Sans, Arial, sans-serif" stroke="#666" stroke-width="0.12">100 µv</text>
<text x="206.4" y="195.4" font-size="9.3" font-weight="bold" text-anchor="middle" fill="#222" font-family="Liberation Serif, serif">(a)</text>
<polyline points="57.0,22.4 57.6,22.5 58.3,21.7 58.9,20.8 59.6,20.9 60.2,19.9 60.9,21.6 61.5,24.4 62.2,23.7 62.8,24.9 63.5,26.8 64.1,27.2 64.8,26.3 65.4,23.1 66.1,23.3 66.7,25.8 67.4,25.2 68.0,28.0 68.7,27.1 69.3,26.4 70.0,24.5 70.6,25.3 71.3,23.5 71.9,26.0 72.6,26.4 73.2,25.7 73.9,23.5 74.5,26.7 75.2,28.9 75.8,30.9 76.5,30.0 77.1,31.1 77.8,30.4 78.4,28.2 79.1,28.0 79.7,23.2 80.4,21.4 81.0,20.3 81.7,18.1 82.3,21.3 83.0,24.2 83.6,26.9 84.3,26.0 84.9,26.9 85.6,30.1 86.2,29.0 86.9,31.6 87.5,30.8 88.2,28.7 88.8,30.2 89.5,26.9 90.1,22.6 90.8,24.3 91.4,25.3 92.1,23.4 92.7,23.0 93.4,21.3 94.0,21.6 94.7,22.5 95.3,22.0 96.0,24.2 96.6,24.0 97.3,25.6 97.9,25.2 98.6,25.2 99.2,24.6 99.9,26.3 100.5,27.1 101.2,25.2 101.8,26.4 102.5,28.6 103.1,26.5 103.8,30.2 104.4,32.5 105.1,32.8 105.7,31.1 106.4,27.7 107.0,25.6 107.7,24.1 108.3,26.1 109.0,25.0 109.6,28.3 110.3,32.8 110.9,30.3 111.6,28.2 112.2,27.9 112.9,29.2 113.5,27.1 114.2,27.5 114.8,25.8 115.5,23.3 116.1,21.9 116.8,18.6 117.4,18.0 118.1,15.2 118.7,16.8 119.4,16.4 120.0,20.8 120.7,21.2 121.3,22.4 122.0,25.8 122.6,26.2 123.3,28.4 123.9,31.8 124.6,29.9 125.2,31.7 125.9,33.6 126.5,34.8 127.2,33.1 127.8,32.0 128.5,30.8 129.1,28.7 129.8,25.3 130.4,25.9 131.1,26.4 131.7,25.5 132.4,26.1 133.0,24.1 133.7,25.6 134.3,24.4 135.0,23.9 135.6,22.9 136.3,23.3 136.9,21.0 137.6,21.4 138.2,22.5 138.9,19.9 139.5,24.1 140.2,22.0 140.8,25.2 141.5,23.9 142.1,26.1 142.8,25.8 143.4,24.7 144.1,28.6 144.7,29.1 145.4,26.7 146.0,25.8 146.7,25.2 147.3,23.7 148.0,26.6 148.6,25.3 149.3,26.3 149.9,25.9 150.6,26.6 151.2,26.3 151.9,29.9 152.5,29.2 153.2,31.0 153.8,30.4 154.5,29.7 155.1,29.2 155.8,28.1 156.4,29.2 157.1,29.2 157.7,30.7 158.4,30.4 159.0,28.0 159.7,27.6 160.3,21.8 161.0,18.9 161.6,18.8 162.3,21.8 162.9,22.4 163.6,28.5 164.2,28.7 164.9,25.3 165.5,25.9 166.2,22.9 166.8,21.7 167.5,19.6 168.1,20.0 168.8,18.2 169.4,18.9 170.1,19.4 170.7,20.6 171.4,23.9 172.0,23.2 172.7,26.2 173.3,27.7 174.0,28.9 174.6,28.7 175.3,29.4 175.9,28.9 176.6,29.6 177.2,30.0 177.9,31.5 178.5,31.5 179.2,31.8 179.8,31.2 180.5,30.6 181.1,31.9 181.8,28.9 182.4,26.2 183.1,26.4 183.7,28.6 184.4,31.2 185.0,29.4 185.7,26.1 186.3,27.8 187.0,24.7 187.6,28.1 188.3,27.4 188.9,26.2 189.6,26.4 190.2,25.5 190.9,20.9 191.5,18.6 192.2,22.1 192.8,20.6 193.5,21.1 194.1,22.4 194.8,21.3 195.4,22.1 196.1,25.8 196.7,27.4 197.4,29.3 198.0,28.7 198.7,26.7 199.3,24.9 200.0,25.4 200.6,24.0 201.3,23.7 201.9,27.7 202.6,26.6 203.2,25.5 203.9,23.2 204.5,23.0 205.2,25.4 205.8,27.8 206.5,29.6 207.1,28.1 207.8,27.2 208.4,25.5 209.1,26.3 209.7,21.7 210.4,23.5 211.0,23.4 211.7,24.8 212.3,24.9 213.0,27.3 213.6,29.2 214.3,28.4 214.9,28.0 215.6,27.8 216.2,30.1 216.9,29.6 217.5,26.4 218.2,26.9 218.8,24.4 219.5,22.3 220.1,26.1 220.8,28.3 221.4,26.3 222.1,24.5 222.7,25.1 223.4,27.5 224.0,25.8 224.7,25.0 225.3,24.4 226.0,24.1 226.6,24.5 227.3,23.8 227.9,22.8 228.6,20.2 229.2,22.4 229.9,22.7 230.5,26.7 231.2,26.2 231.8,28.3 232.5,25.6 233.1,21.7 233.8,24.0 234.4,24.2 235.1,23.1 235.7,25.1 236.4,25.2 237.0,23.0 237.7,27.4 238.3,28.7 239.0,30.5 239.6,30.8 240.3,33.5 240.9,35.6 241.6,36.4 242.2,34.1 242.9,32.1 243.5,32.2 244.2,28.2 244.8,27.5 245.5,26.4 246.1,29.4 246.8,26.6 247.4,25.4 248.1,24.6 248.7,22.5 249.4,21.0 250.0,20.0 250.7,19.4 251.3,18.6 252.0,19.9 252.6,19.9 253.3,20.6 253.9,21.7 254.6,22.5 255.2,25.5 255.9,25.3 256.5,25.9 257.2,27.1 257.8,28.0 258.5,31.3 259.1,32.7 259.8,29.1 260.4,28.1 261.1,27.6 261.7,27.4 262.4,25.0 263.0,27.5 263.7,27.7 264.3,29.1 265.0,27.2 265.6,29.8 266.3,30.6 266.9,26.9 267.6,25.4 268.2,25.1 268.9,25.7 269.5,25.6 270.2,27.8 270.8,29.7 271.5,26.1 272.1,25.2 272.8,23.5 273.4,24.2 274.1,22.8 274.7,23.3 275.4,25.6 276.0,22.1 276.7,23.8 277.3,24.1 278.0,23.8 278.6,25.4 279.3,27.5 279.9,25.7 280.6,26.4 281.2,26.6 281.9,29.3 282.5,31.0 283.2,29.9 283.8,26.9 284.5,25.9 285.1,25.7 285.8,26.0 286.4,24.9 287.1,25.1 287.7,25.8 288.4,25.2 289.0,24.9 289.7,24.6 290.3,23.8 291.0,24.8 291.6,26.8 292.3,26.2 292.9,26.3 293.6,24.1 294.2,26.0 294.9,22.9 295.5,23.7 296.2,27.3 296.8,28.2 297.5,26.7 298.1,23.9 298.8,26.4 299.4,26.9 300.1,27.8 300.7,29.8 301.4,29.5 302.0,29.0 302.7,27.7 303.3,27.6 304.0,25.8 304.6,23.8 305.3,24.5 305.9,23.3 306.6,25.9 307.2,25.3 307.9,25.5 308.5,25.2 309.2,27.5 309.8,27.9 310.5,28.8 311.1,30.2 311.8,27.1 312.4,24.6 313.1,25.4 313.7,23.2 314.4,24.5 315.0,26.3 315.7,24.4 316.3,26.5 317.0,28.6 317.6,29.8 318.3,29.8 318.9,30.4 319.6,28.4 320.2,25.4 320.9,24.6 321.5,25.9 322.2,25.4 322.8,23.0 323.5,26.1 324.1,24.6 324.8,24.8 325.4,22.3 326.1,20.8 326.7,18.8 327.4,23.9 328.0,22.0 328.7,25.0 329.3,23.8 330.0,26.1 330.6,25.0 331.3,27.2 331.9,29.1 332.6,26.9 333.2,29.7 333.9,29.3 334.5,28.6 335.2,30.1 335.8,30.9 336.5,31.9 337.1,31.9 337.8,29.9 338.4,28.1 339.1,25.3 339.7,23.2 340.4,23.5 341.0,24.1 341.7,22.5 342.3,25.4 343.0,26.0 343.6,27.0 344.3,30.4 344.9,28.5 345.6,29.9 346.2,26.4 346.9,27.0 347.5,27.4 348.2,27.4 348.8,28.5 349.5,27.3 350.1,27.5 350.8,26.3 351.4,24.6 352.1,25.1 352.7,24.8 353.4,25.2 354.0,22.5 354.7,22.4 355.3,20.6 356.0,24.8 356.6,23.9 357.3,23.6 357.9,26.1 358.6,27.9 359.2,25.6 359.9,26.4 360.5,25.7 361.2,24.3 361.8,25.4 362.5,23.6 363.1,23.2 363.8,25.1 364.4,24.7 365.1,25.8 365.7,23.7 366.4,24.3 367.0,24.4 367.7,28.6 368.3,26.5 369.0,27.3 369.6,26.1 370.3,24.5 370.9,25.4 371.6,29.6 372.2,26.1 372.9,25.1 373.5,26.2" fill="none" stroke="#2096d4" stroke-width="0.68" stroke-linejoin="round"/>
<polyline points="57.0,56.3 57.6,57.0 58.3,56.0 58.9,55.7 59.6,56.1 60.2,56.7 60.9,58.6 61.5,54.5 62.2,60.3 62.8,61.2 63.5,66.3 64.1,66.7 64.8,70.8 65.4,66.3 66.1,62.6 66.7,61.9 67.4,58.4 68.0,55.4 68.7,53.7 69.3,52.0 70.0,54.3 70.6,56.3 71.3,58.3 71.9,60.5 72.6,59.2 73.2,60.2 73.9,61.1 74.5,63.5 75.2,65.2 75.8,64.5 76.5,66.0 77.1,67.9 77.8,67.9 78.4,67.0 79.1,66.7 79.7,63.5 80.4,63.3 81.0,61.4 81.7,60.9 82.3,59.9 83.0,58.4 83.6,57.1 84.3,56.8 84.9,55.4 85.6,55.2 86.2,53.9 86.9,54.0 87.5,57.6 88.2,59.9 88.8,62.6 89.5,61.9 90.1,58.6 90.8,59.3 91.4,59.7 92.1,60.5 92.7,62.6 93.4,64.8 94.0,62.7 94.7,62.2 95.3,60.8 96.0,60.2 96.6,57.1 97.3,58.4 97.9,58.8 98.6,57.8 99.2,56.4 99.9,56.9 100.5,54.2 101.2,58.2 101.8,59.6 102.5,61.2 103.1,63.0 103.8,63.5 104.4,65.2 105.1,67.2 105.7,66.2 106.4,64.9 107.0,62.3 107.7,63.7 108.3,63.6 109.0,63.3 109.6,63.5 110.3,61.1 110.9,62.2 111.6,59.8 112.2,56.1 112.9,58.2 113.5,55.3 114.2,57.2 114.8,60.8 115.5,69.0 116.1,65.0 116.8,63.8 117.4,64.3 118.1,63.3 118.7,60.9 119.4,61.4 120.0,61.9 120.7,61.7 121.3,61.3 122.0,61.7 122.6,61.8 123.3,61.6 123.9,59.1 124.6,60.4 125.2,61.1 125.9,59.8 126.5,59.6 127.2,58.3 127.8,57.0 128.5,57.2 129.1,56.2 129.8,55.9 130.4,57.8 131.1,57.1 131.7,58.6 132.4,56.6 133.0,57.6 133.7,57.9 134.3,58.7 135.0,57.7 135.6,60.2 136.3,61.8 136.9,61.2 137.6,62.1 138.2,64.9 138.9,67.3 139.5,64.8 140.2,68.2 140.8,68.8 141.5,67.8 142.1,68.6 142.8,67.9 143.4,66.2 144.1,65.1 144.7,63.5 145.4,59.9 146.0,58.8 146.7,58.1 147.3,57.1 148.0,52.7 148.6,52.0 149.3,54.1 149.9,56.8 150.6,56.4 151.2,58.1 151.9,54.9 152.5,57.0 153.2,58.6 153.8,61.3 154.5,63.3 155.1,62.7 155.8,64.9 156.4,66.8 157.1,65.7 157.7,64.2 158.4,65.7 159.0,63.5 159.7,62.3 160.3,60.2 161.0,60.7 161.6,58.8 162.3,61.3 162.9,59.8 163.6,59.8 164.2,61.3 164.9,60.9 165.5,62.9 166.2,63.0 166.8,61.2 167.5,61.8 168.1,60.8 168.8,61.6 169.4,59.4 170.1,59.0 170.7,60.3 171.4,62.0 172.0,62.8 172.7,61.7 173.3,63.0 174.0,65.0 174.6,63.9 175.3,64.6 175.9,66.4 176.6,65.7 177.2,64.7 177.9,65.4 178.5,64.6 179.2,64.7 179.8,61.9 180.5,61.5 181.1,60.3 181.8,58.9 182.4,55.7 183.1,56.3 183.7,56.9 184.4,59.0 185.0,59.4 185.7,62.4 186.3,61.7 187.0,60.4 187.6,60.4 188.3,61.1 188.9,62.7 189.6,60.7 190.2,61.3 190.9,61.5 191.5,64.4 192.2,62.4 192.8,61.4 193.5,62.5 194.1,61.8 194.8,56.9 195.4,53.5 196.1,59.4 196.7,62.7 197.4,65.6 198.0,65.8 198.7,67.4 199.3,65.8 200.0,62.9 200.6,61.8 201.3,57.7 201.9,59.1 202.6,56.6 203.2,57.9 203.9,58.9 204.5,59.4 205.2,59.1 205.8,61.9 206.5,61.5 207.1,63.1 207.8,64.3 208.4,66.2 209.1,59.7 209.7,61.0 210.4,58.3 211.0,60.0 211.7,62.0 212.3,60.4 213.0,58.9 213.6,60.4 214.3,60.2 214.9,60.4 215.6,61.5 216.2,60.3 216.9,63.9 217.5,61.6 218.2,63.1 218.8,62.1 219.5,61.1 220.1,59.7 220.8,58.6 221.4,59.6 222.1,59.2 222.7,61.6 223.4,64.2 224.0,64.9 224.7,64.7 225.3,64.5 226.0,63.6 226.6,66.0 227.3,63.3 227.9,62.4 228.6,61.6 229.2,61.5 229.9,60.4 230.5,61.1 231.2,60.5 231.8,58.2 232.5,57.8 233.1,51.7 233.8,54.4 234.4,58.6 235.1,60.4 235.7,59.2 236.4,59.2 237.0,59.6 237.7,58.3 238.3,58.6 239.0,61.3 239.6,60.8 240.3,63.8 240.9,62.6 241.6,64.3 242.2,60.0 242.9,61.4 243.5,62.6 244.2,65.0 244.8,66.0 245.5,68.0 246.1,65.8 246.8,67.6 247.4,65.3 248.1,63.3 248.7,63.1 249.4,60.4 250.0,58.7 250.7,61.1 251.3,59.5 252.0,59.3 252.6,60.6 253.3,61.1 253.9,61.5 254.6,58.5 255.2,56.5 255.9,56.8 256.5,56.1 257.2,56.0 257.8,58.9 258.5,59.8 259.1,61.0 259.8,63.2 260.4,60.7 261.1,60.1 261.7,58.8 262.4,58.9 263.0,58.2 263.7,60.6 264.3,61.1 265.0,62.7 265.6,63.9 266.3,63.0 266.9,65.0 267.6,65.5 268.2,66.8 268.9,65.7 269.5,68.7 270.2,66.2 270.8,63.1 271.5,60.3 272.1,59.1 272.8,57.9 273.4,56.1 274.1,57.4 274.7,57.0 275.4,57.2 276.0,55.2 276.7,56.5 277.3,57.5 278.0,58.5 278.6,55.2 279.3,57.1 279.9,58.2 280.6,61.6 281.2,60.0 281.9,61.3 282.5,62.4 283.2,61.9 283.8,62.4 284.5,62.9 285.1,60.6 285.8,61.4 286.4,62.8 287.1,62.7 287.7,61.6 288.4,60.4 289.0,61.9 289.7,61.6 290.3,61.7 291.0,64.3 291.6,64.1 292.3,64.7 292.9,61.9 293.6,59.6 294.2,59.4 294.9,61.4 295.5,60.3 296.2,61.7 296.8,60.2 297.5,62.2 298.1,61.1 298.8,61.1 299.4,63.4 300.1,61.0 300.7,59.4 301.4,60.4 302.0,60.8 302.7,61.0 303.3,58.6 304.0,56.9 304.6,58.9 305.3,59.8 305.9,61.0 306.6,63.3 307.2,62.7 307.9,63.8 308.5,62.0 309.2,64.5 309.8,66.3 310.5,64.8 311.1,64.0 311.8,62.9 312.4,63.8 313.1,61.7 313.7,63.0 314.4,62.8 315.0,62.8 315.7,62.0 316.3,62.4 317.0,60.7 317.6,59.6 318.3,57.7 318.9,55.7 319.6,56.4 320.2,58.8 320.9,58.2 321.5,60.6 322.2,62.7 322.8,61.4 323.5,63.2 324.1,62.1 324.8,63.9 325.4,64.3 326.1,62.9 326.7,59.6 327.4,61.2 328.0,61.1 328.7,61.6 329.3,63.2 330.0,59.5 330.6,62.7 331.3,62.6 331.9,64.8 332.6,63.9 333.2,61.8 333.9,61.8 334.5,61.2 335.2,59.7 335.8,60.0 336.5,58.6 337.1,56.5 337.8,60.6 338.4,61.5 339.1,62.3 339.7,63.5 340.4,65.3 341.0,64.4 341.7,64.6 342.3,65.9 343.0,67.6 343.6,63.4 344.3,64.9 344.9,61.5 345.6,60.2 346.2,62.3 346.9,60.2 347.5,58.4 348.2,58.3 348.8,58.9 349.5,59.7 350.1,58.8 350.8,61.4 351.4,63.0 352.1,62.3 352.7,62.8 353.4,60.9 354.0,58.1 354.7,58.0 355.3,59.7 356.0,61.1 356.6,62.1 357.3,62.8 357.9,64.8 358.6,62.7 359.2,62.9 359.9,63.8 360.5,63.1 361.2,64.4 361.8,60.5 362.5,61.7 363.1,59.9 363.8,61.8 364.4,61.1 365.1,56.4 365.7,56.4 366.4,57.2 367.0,56.6 367.7,56.7 368.3,56.6 369.0,57.7 369.6,58.5 370.3,58.7 370.9,61.1 371.6,59.5 372.2,64.5 372.9,64.0 373.5,63.6" fill="none" stroke="#f26a3c" stroke-width="0.68" stroke-linejoin="round"/>
<polyline points="57.0,101.5 57.6,101.3 58.3,103.0 58.9,100.8 59.6,100.2 60.2,99.2 60.9,101.0 61.5,102.1 62.2,103.0 62.8,101.9 63.5,103.6 64.1,102.8 64.8,103.0 65.4,104.0 66.1,104.7 66.7,103.8 67.4,105.0 68.0,105.8 68.7,106.6 69.3,105.1 70.0,106.5 70.6,104.5 71.3,105.1 71.9,103.2 72.6,104.3 73.2,104.8 73.9,104.4 74.5,107.4 75.2,105.1 75.8,105.8 76.5,105.5 77.1,104.6 77.8,105.9 78.4,107.4 79.1,105.0 79.7,103.0 80.4,100.5 81.0,96.7 81.7,97.5 82.3,96.7 83.0,101.2 83.6,102.2 84.3,104.4 84.9,107.1 85.6,107.8 86.2,105.6 86.9,102.2 87.5,100.2 88.2,97.5 88.8,97.6 89.5,100.1 90.1,97.2 90.8,99.4 91.4,96.9 92.1,98.2 92.7,96.9 93.4,96.6 94.0,96.2 94.7,99.4 95.3,100.1 96.0,102.7 96.6,104.0 97.3,107.3 97.9,107.7 98.6,109.8 99.2,109.8 99.9,111.9 100.5,106.2 101.2,107.0 101.8,107.8 102.5,105.9 103.1,104.9 103.8,104.9 104.4,103.1 105.1,104.0 105.7,105.8 106.4,103.5 107.0,100.1 107.7,99.5 108.3,100.2 109.0,102.6 109.6,102.1 110.3,103.8 110.9,107.2 111.6,108.7 112.2,108.5 112.9,107.7 113.5,105.1 114.2,103.9 114.8,100.0 115.5,100.8 116.1,96.6 116.8,96.1 117.4,96.3 118.1,95.8 118.7,93.7 119.4,97.1 120.0,98.6 120.7,97.9 121.3,99.1 122.0,101.6 122.6,100.2 123.3,103.4 123.9,99.6 124.6,101.6 125.2,104.2 125.9,105.9 126.5,108.3 127.2,109.9 127.8,110.1 128.5,112.3 129.1,109.5 129.8,111.4 130.4,109.9 131.1,109.7 131.7,108.7 132.4,106.4 133.0,105.5 133.7,105.4 134.3,103.8 135.0,102.2 135.6,104.2 136.3,103.5 136.9,98.2 137.6,99.1 138.2,100.5 138.9,98.0 139.5,97.1 140.2,97.0 140.8,97.0 141.5,97.8 142.1,97.8 142.8,99.5 143.4,98.8 144.1,99.3 144.7,99.5 145.4,101.8 146.0,101.7 146.7,103.4 147.3,105.5 148.0,105.4 148.6,106.1 149.3,106.7 149.9,107.2 150.6,107.3 151.2,107.4 151.9,109.4 152.5,108.1 153.2,111.2 153.8,109.5 154.5,107.4 155.1,106.8 155.8,106.1 156.4,106.3 157.1,104.6 157.7,106.2 158.4,103.8 159.0,101.6 159.7,102.7 160.3,100.8 161.0,102.4 161.6,103.1 162.3,102.8 162.9,101.1 163.6,102.8 164.2,106.6 164.9,103.4 165.5,101.5 166.2,101.0 166.8,101.2 167.5,99.2 168.1,97.8 168.8,98.4 169.4,99.5 170.1,99.0 170.7,99.5 171.4,101.9 172.0,102.4 172.7,104.7 173.3,105.5 174.0,107.6 174.6,102.5 175.3,102.0 175.9,100.8 176.6,102.4 177.2,104.7 177.9,104.7 178.5,105.8 179.2,105.5 179.8,106.6 180.5,108.0 181.1,106.9 181.8,104.9 182.4,105.1 183.1,105.4 183.7,105.3 184.4,103.5 185.0,103.1 185.7,100.6 186.3,100.6 187.0,103.3 187.6,99.5 188.3,102.2 188.9,103.7 189.6,102.9 190.2,101.9 190.9,102.0 191.5,101.3 192.2,99.8 192.8,96.4 193.5,97.2 194.1,97.8 194.8,99.6 195.4,102.6 196.1,104.8 196.7,106.2 197.4,104.8 198.0,105.9 198.7,105.2 199.3,104.1 200.0,103.8 200.6,101.7 201.3,103.3 201.9,106.0 202.6,105.2 203.2,107.3 203.9,105.2 204.5,104.0 205.2,101.1 205.8,101.3 206.5,101.7 207.1,101.7 207.8,100.8 208.4,99.1 209.1,98.7 209.7,98.6 210.4,100.5 211.0,100.3 211.7,102.1 212.3,104.5 213.0,103.6 213.6,103.0 214.3,103.0 214.9,101.5 215.6,101.0 216.2,102.9 216.9,101.1 217.5,100.9 218.2,105.4 218.8,106.6 219.5,105.2 220.1,104.3 220.8,104.5 221.4,105.7 222.1,106.7 222.7,107.8 223.4,107.2 224.0,106.1 224.7,105.5 225.3,104.0 226.0,100.9 226.6,101.9 227.3,101.9 227.9,100.8 228.6,101.9 229.2,100.7 229.9,100.6 230.5,104.0 231.2,104.0 231.8,104.6 232.5,102.7 233.1,100.3 233.8,98.5 234.4,95.5 235.1,98.0 235.7,99.2 236.4,99.7 237.0,101.5 237.7,103.3 238.3,102.5 239.0,103.1 239.6,108.2 240.3,107.1 240.9,107.9 241.6,109.1 242.2,108.2 242.9,105.3 243.5,105.4 244.2,102.3 244.8,100.9 245.5,102.6 246.1,103.8 246.8,102.8 247.4,103.4 248.1,101.8 248.7,104.4 249.4,100.0 250.0,101.7 250.7,99.5 251.3,98.3 252.0,98.8 252.6,99.5 253.3,100.7 253.9,100.8 254.6,100.9 255.2,102.0 255.9,103.8 256.5,104.4 257.2,106.4 257.8,106.3 258.5,107.5 259.1,108.6 259.8,107.6 260.4,105.7 261.1,105.5 261.7,105.9 262.4,110.3 263.0,105.7 263.7,105.8 264.3,103.5 265.0,103.3 265.6,101.4 266.3,99.9 266.9,100.3 267.6,100.5 268.2,100.0 268.9,100.1 269.5,101.7 270.2,104.0 270.8,101.0 271.5,104.3 272.1,104.1 272.8,106.4 273.4,108.2 274.1,108.3 274.7,108.3 275.4,104.1 276.0,105.9 276.7,103.1 277.3,105.0 278.0,104.7 278.6,100.9 279.3,102.6 279.9,103.9 280.6,105.1 281.2,103.2 281.9,102.6 282.5,100.2 283.2,103.1 283.8,103.2 284.5,100.4 285.1,99.7 285.8,98.7 286.4,101.5 287.1,102.9 287.7,100.9 288.4,102.0 289.0,100.4 289.7,97.7 290.3,99.9 291.0,97.0 291.6,99.0 292.3,100.5 292.9,102.2 293.6,102.8 294.2,103.8 294.9,103.6 295.5,104.1 296.2,105.6 296.8,104.5 297.5,103.6 298.1,103.3 298.8,105.2 299.4,104.7 300.1,105.8 300.7,106.0 301.4,108.6 302.0,109.3 302.7,111.6 303.3,106.6 304.0,105.3 304.6,105.1 305.3,101.9 305.9,101.0 306.6,102.5 307.2,99.7 307.9,98.7 308.5,99.0 309.2,101.7 309.8,102.7 310.5,102.4 311.1,104.4 311.8,104.8 312.4,103.2 313.1,100.0 313.7,99.7 314.4,98.5 315.0,97.5 315.7,100.9 316.3,104.5 317.0,105.8 317.6,106.0 318.3,109.2 318.9,110.7 319.6,110.8 320.2,105.4 320.9,108.6 321.5,102.4 322.2,103.6 322.8,102.9 323.5,102.1 324.1,100.7 324.8,98.7 325.4,99.8 326.1,97.2 326.7,95.4 327.4,101.9 328.0,100.1 328.7,101.8 329.3,99.4 330.0,102.3 330.6,102.1 331.3,102.3 331.9,101.4 332.6,101.5 333.2,104.3 333.9,103.7 334.5,105.8 335.2,108.9 335.8,108.5 336.5,109.2 337.1,108.8 337.8,110.2 338.4,108.2 339.1,105.1 339.7,105.2 340.4,102.0 341.0,100.9 341.7,100.7 342.3,97.5 343.0,99.4 343.6,99.4 344.3,102.6 344.9,105.3 345.6,101.5 346.2,101.8 346.9,100.0 347.5,100.4 348.2,101.9 348.8,106.0 349.5,107.8 350.1,105.5 350.8,103.8 351.4,104.9 352.1,103.2 352.7,103.9 353.4,103.5 354.0,104.6 354.7,105.0 355.3,103.2 356.0,102.8 356.6,100.8 357.3,103.3 357.9,103.0 358.6,103.9 359.2,102.5 359.9,103.1 360.5,102.6 361.2,99.5 361.8,99.5 362.5,98.8 363.1,101.5 363.8,103.6 364.4,103.2 365.1,102.5 365.7,105.0 366.4,102.3 367.0,106.1 367.7,104.3 368.3,102.5 369.0,107.8 369.6,105.5 370.3,104.6 370.9,107.6 371.6,105.0 372.2,103.7 372.9,101.4 373.5,102.8" fill="none" stroke="#f9b52a" stroke-width="0.68" stroke-linejoin="round"/>
<polyline points="57.0,137.3 57.6,137.6 58.3,139.0 58.9,137.2 59.6,139.2 60.2,135.2 60.9,136.6 61.5,135.3 62.2,135.8 62.8,137.7 63.5,138.8 64.1,144.5 64.8,147.1 65.4,144.2 66.1,142.3 66.7,139.4 67.4,136.7 68.0,135.3 68.7,132.8 69.3,129.5 70.0,130.5 70.6,134.0 71.3,136.3 71.9,139.7 72.6,142.3 73.2,139.3 73.9,138.0 74.5,138.4 75.2,138.5 75.8,139.5 76.5,140.1 77.1,141.3 77.8,142.3 78.4,144.7 79.1,144.5 79.7,144.9 80.4,142.1 81.0,143.9 81.7,141.6 82.3,141.9 83.0,139.7 83.6,139.9 84.3,137.4 84.9,137.2 85.6,138.3 86.2,133.6 86.9,136.3 87.5,137.4 88.2,136.6 88.8,137.5 89.5,137.6 90.1,134.7 90.8,135.2 91.4,133.5 92.1,135.6 92.7,136.9 93.4,136.9 94.0,137.2 94.7,138.1 95.3,136.5 96.0,140.9 96.6,139.6 97.3,138.6 97.9,137.9 98.6,138.7 99.2,140.0 99.9,140.0 100.5,137.1 101.2,139.8 101.8,142.5 102.5,137.0 103.1,139.9 103.8,138.7 104.4,137.7 105.1,140.2 105.7,137.9 106.4,139.1 107.0,140.2 107.7,137.7 108.3,137.8 109.0,139.3 109.6,138.2 110.3,139.5 110.9,136.2 111.6,137.7 112.2,134.7 112.9,136.9 113.5,137.1 114.2,135.6 114.8,140.1 115.5,139.9 116.1,141.1 116.8,142.5 117.4,138.5 118.1,138.0 118.7,140.3 119.4,138.2 120.0,139.3 120.7,137.4 121.3,135.5 122.0,135.9 122.6,136.8 123.3,135.9 123.9,134.3 124.6,133.9 125.2,134.6 125.9,134.6 126.5,137.2 127.2,135.3 127.8,135.1 128.5,137.2 129.1,140.2 129.8,140.9 130.4,140.5 131.1,138.9 131.7,138.9 132.4,137.7 133.0,138.5 133.7,140.5 134.3,139.2 135.0,140.9 135.6,141.4 136.3,139.7 136.9,137.9 137.6,141.2 138.2,140.6 138.9,140.3 139.5,142.0 140.2,140.9 140.8,138.8 141.5,139.1 142.1,138.2 142.8,135.6 143.4,137.4 144.1,137.0 144.7,136.0 145.4,133.8 146.0,134.7 146.7,134.6 147.3,134.2 148.0,131.7 148.6,132.9 149.3,131.9 149.9,133.8 150.6,136.1 151.2,135.1 151.9,136.9 152.5,138.5 153.2,136.3 153.8,138.1 154.5,140.4 155.1,143.5 155.8,140.8 156.4,141.3 157.1,140.3 157.7,139.6 158.4,140.0 159.0,140.3 159.7,140.9 160.3,138.7 161.0,139.3 161.6,139.1 162.3,137.2 162.9,137.7 163.6,138.8 164.2,136.8 164.9,135.2 165.5,136.5 166.2,136.7 166.8,137.5 167.5,137.9 168.1,137.1 168.8,138.7 169.4,140.7 170.1,138.7 170.7,138.3 171.4,136.2 172.0,135.9 172.7,136.6 173.3,140.1 174.0,136.8 174.6,136.3 175.3,136.8 175.9,137.8 176.6,139.2 177.2,139.8 177.9,143.5 178.5,140.8 179.2,140.5 179.8,137.1 180.5,135.4 181.1,132.0 181.8,132.8 182.4,133.4 183.1,134.0 183.7,133.0 184.4,137.1 185.0,136.2 185.7,136.7 186.3,137.4 187.0,137.3 187.6,137.8 188.3,136.2 188.9,137.1 189.6,139.5 190.2,140.4 190.9,140.9 191.5,141.4 192.2,141.7 192.8,141.3 193.5,141.0 194.1,136.9 194.8,138.1 195.4,135.8 196.1,135.9 196.7,138.9 197.4,138.0 198.0,139.0 198.7,140.0 199.3,140.7 200.0,139.7 200.6,138.1 201.3,137.1 201.9,133.5 202.6,135.4 203.2,134.3 203.9,136.4 204.5,138.3 205.2,138.0 205.8,136.7 206.5,136.0 207.1,136.0 207.8,136.0 208.4,135.5 209.1,134.7 209.7,135.9 210.4,136.3 211.0,138.5 211.7,136.6 212.3,140.3 213.0,137.5 213.6,136.6 214.3,137.2 214.9,137.5 215.6,136.2 216.2,137.4 216.9,136.8 217.5,138.6 218.2,139.1 218.8,137.4 219.5,139.1 220.1,138.4 220.8,139.2 221.4,139.2 222.1,141.0 222.7,143.3 223.4,141.8 224.0,144.7 224.7,144.1 225.3,143.6 226.0,140.5 226.6,142.5 227.3,143.0 227.9,141.1 228.6,141.6 229.2,138.3 229.9,141.0 230.5,138.4 231.2,138.8 231.8,133.6 232.5,133.9 233.1,128.0 233.8,132.5 234.4,132.8 235.1,134.5 235.7,137.6 236.4,133.9 237.0,134.6 237.7,135.3 238.3,134.0 239.0,135.9 239.6,135.9 240.3,134.0 240.9,134.5 241.6,138.5 242.2,138.9 242.9,139.7 243.5,141.1 244.2,139.4 244.8,140.7 245.5,139.9 246.1,140.4 246.8,143.6 247.4,142.3 248.1,146.1 248.7,142.9 249.4,141.0 250.0,142.0 250.7,142.6 251.3,140.6 252.0,138.2 252.6,139.4 253.3,140.0 253.9,137.4 254.6,136.1 255.2,137.0 255.9,135.0 256.5,132.6 257.2,134.0 257.8,134.2 258.5,136.5 259.1,137.1 259.8,138.8 260.4,138.9 261.1,136.9 261.7,139.6 262.4,140.7 263.0,139.2 263.7,138.7 264.3,135.3 265.0,133.4 265.6,134.6 266.3,134.8 266.9,135.6 267.6,140.0 268.2,138.4 268.9,138.5 269.5,137.9 270.2,139.0 270.8,139.0 271.5,139.3 272.1,139.1 272.8,135.5 273.4,141.1 274.1,140.1 274.7,139.1 275.4,140.2 276.0,138.8 276.7,136.7 277.3,139.9 278.0,135.9 278.6,136.1 279.3,136.6 279.9,138.4 280.6,136.9 281.2,138.7 281.9,136.2 282.5,138.3 283.2,136.8 283.8,137.2 284.5,139.5 285.1,138.4 285.8,138.8 286.4,140.6 287.1,138.1 287.7,136.6 288.4,137.9 289.0,135.1 289.7,138.0 290.3,138.9 291.0,137.8 291.6,138.6 292.3,139.2 292.9,138.8 293.6,138.0 294.2,140.0 294.9,137.4 295.5,138.9 296.2,138.2 296.8,137.6 297.5,138.8 298.1,137.9 298.8,139.2 299.4,137.6 300.1,137.6 300.7,137.1 301.4,136.7 302.0,138.3 302.7,137.0 303.3,137.9 304.0,138.6 304.6,138.7 305.3,139.5 305.9,136.9 306.6,135.7 307.2,138.5 307.9,138.0 308.5,138.7 309.2,137.8 309.8,139.8 310.5,139.9 311.1,140.1 311.8,139.1 312.4,138.2 313.1,137.8 313.7,137.7 314.4,138.7 315.0,137.1 315.7,139.4 316.3,137.5 317.0,139.1 317.6,137.9 318.3,137.5 318.9,140.5 319.6,138.3 320.2,136.7 320.9,137.3 321.5,138.8 322.2,142.0 322.8,139.6 323.5,139.8 324.1,136.8 324.8,137.7 325.4,137.5 326.1,139.3 326.7,136.8 327.4,137.4 328.0,136.3 328.7,134.5 329.3,135.8 330.0,136.3 330.6,134.6 331.3,138.4 331.9,137.9 332.6,136.3 333.2,135.9 333.9,139.3 334.5,137.8 335.2,138.3 335.8,138.4 336.5,136.5 337.1,138.5 337.8,137.9 338.4,138.6 339.1,139.7 339.7,140.9 340.4,143.5 341.0,143.0 341.7,141.3 342.3,139.9 343.0,139.5 343.6,137.0 344.3,136.4 344.9,137.2 345.6,137.1 346.2,136.7 346.9,135.4 347.5,137.5 348.2,136.4 348.8,136.0 349.5,135.8 350.1,138.5 350.8,137.2 351.4,137.6 352.1,138.6 352.7,139.1 353.4,140.9 354.0,139.4 354.7,140.7 355.3,137.5 356.0,140.8 356.6,139.9 357.3,143.6 357.9,140.5 358.6,139.7 359.2,139.7 359.9,139.1 360.5,135.9 361.2,136.3 361.8,134.8 362.5,136.2 363.1,135.7 363.8,136.1 364.4,136.8 365.1,136.4 365.7,134.9 366.4,135.3 367.0,135.6 367.7,132.7 368.3,135.3 369.0,135.2 369.6,136.9 370.3,136.4 370.9,138.8 371.6,139.4 372.2,142.9 372.9,141.7 373.5,139.8" fill="none" stroke="#b04cc0" stroke-width="0.68" stroke-linejoin="round"/>
<text x="18.30" y="341.10" font-size="5.35" text-anchor="end" fill="#484848" font-family="Liberation Sans, Arial, sans-serif" stroke="#666" stroke-width="0.12">0</text>
<text x="18.30" y="328.49" font-size="5.35" text-anchor="end" fill="#484848" font-family="Liberation Sans, Arial, sans-serif" stroke="#666" stroke-width="0.12">0.1</text>
<text x="18.30" y="315.88" font-size="5.35" text-anchor="end" fill="#484848" font-family="Liberation Sans, Arial, sans-serif" stroke="#666" stroke-width="0.12">0.2</text>
<text x="18.30" y="303.27" font-size="5.35" text-anchor="end" fill="#484848" font-family="Liberation Sans, Arial, sans-serif" stroke="#666" stroke-width="0.12">0.3</text>
<text x="18.30" y="290.66" font-size="5.35" text-anchor="end" fill="#484848" font-family="Liberation Sans, Arial, sans-serif" stroke="#666" stroke-width="0.12">0.4</text>
<text x="18.30" y="278.05" font-size="5.35" text-anchor="end" fill="#484848" font-family="Liberation Sans, Arial, sans-serif" stroke="#666" stroke-width="0.12">0.5</text>
<text x="18.30" y="265.44" font-size="5.35" text-anchor="end" fill="#484848" font-family="Liberation Sans, Arial, sans-serif" stroke="#666" stroke-width="0.12">0.6</text>
<text x="18.30" y="252.83" font-size="5.35" text-anchor="end" fill="#484848" font-family="Liberation Sans, Arial, sans-serif" stroke="#666" stroke-width="0.12">0.7</text>
<text x="18.30" y="240.22" font-size="5.35" text-anchor="end" fill="#484848" font-family="Liberation Sans, Arial, sans-serif" stroke="#666" stroke-width="0.12">0.8</text>
<text x="18.30" y="227.61" font-size="5.35" text-anchor="end" fill="#484848" font-family="Liberation Sans, Arial, sans-serif" stroke="#666" stroke-width="0.12">0.9</text>
<text x="18.30" y="215.00" font-size="5.35" text-anchor="end" fill="#484848" font-family="Liberation Sans, Arial, sans-serif" stroke="#666" stroke-width="0.12">1</text>
<text x="33.83" y="346.20" font-size="5.35" text-anchor="middle" fill="#484848" font-family="Liberation Sans, Arial, sans-serif" stroke="#666" stroke-width="0.12">1</text>
<text x="60.48" y="346.20" font-size="5.35" text-anchor="middle" fill="#484848" font-family="Liberation Sans, Arial, sans-serif" stroke="#666" stroke-width="0.12">2</text>
<text x="87.12" y="346.20" font-size="5.35" text-anchor="middle" fill="#484848" font-family="Liberation Sans, Arial, sans-serif" stroke="#666" stroke-width="0.12">3</text>
<text x="113.78" y="346.20" font-size="5.35" text-anchor="middle" fill="#484848" font-family="Liberation Sans, Arial, sans-serif" stroke="#666" stroke-width="0.12">4</text>
<text x="140.43" y="346.20" font-size="5.35" text-anchor="middle" fill="#484848" font-family="Liberation Sans, Arial, sans-serif" stroke="#666" stroke-width="0.12">5</text>
<text x="167.08" y="346.20" font-size="5.35" text-anchor="middle" fill="#484848" font-family="Liberation Sans, Arial, sans-serif" stroke="#666" stroke-width="0.12">6</text>
<text x="100.95" y="209.60" font-size="5.5" font-weight="bold" text-anchor="middle" fill="#111" font-family="Liberation Sans, Arial, sans-serif" stroke="#666" stroke-width="0.12">Power Spectrum Comparison of F3F4</text>
<text x="100.95" y="353.10" font-size="5.6" text-anchor="middle" fill="#484848" font-family="Liberation Sans, Arial, sans-serif" stroke="#666" stroke-width="0.12">Time (Hour)</text>
<text transform="translate(8.30,276.45) rotate(-90)" font-size="5.5" text-anchor="middle" fill="#484848" font-family="Liberation Sans, Arial, sans-serif" stroke="#666" stroke-width="0.12">relative Power</text>
<text x="96.95" y="370.30" font-size="10" font-weight="bold" text-anchor="middle" fill="#222" font-family="Liberation Serif, serif">(b)</text>
<text x="119.10" y="222.20" font-size="4.5" fill="#333" font-family="Liberation Sans, Arial, sans-serif" stroke="#555" stroke-width="0.08" style="text-rendering:optimizeLegibility">Relative Power(Beanie data)</text>
<text x="119.10" y="228.00" font-size="4.5" fill="#333" font-family="Liberation Sans, Arial, sans-serif" stroke="#555" stroke-width="0.08" style="text-rendering:optimizeLegibility">Range(Stroke data)</text>
<text x="119.10" y="233.80" font-size="4.5" fill="#333" font-family="Liberation Sans, Arial, sans-serif" stroke="#555" stroke-width="0.08" style="text-rendering:optimizeLegibility">Median(Stroke data)</text>
<text x="235.30" y="341.70" font-size="5.35" text-anchor="end" fill="#484848" font-family="Liberation Sans, Arial, sans-serif" stroke="#666" stroke-width="0.12">0</text>
<text x="235.30" y="328.97" font-size="5.35" text-anchor="end" fill="#484848" font-family="Liberation Sans, Arial, sans-serif" stroke="#666" stroke-width="0.12">0.1</text>
<text x="235.30" y="316.24" font-size="5.35" text-anchor="end" fill="#484848" font-family="Liberation Sans, Arial, sans-serif" stroke="#666" stroke-width="0.12">0.2</text>
<text x="235.30" y="303.51" font-size="5.35" text-anchor="end" fill="#484848" font-family="Liberation Sans, Arial, sans-serif" stroke="#666" stroke-width="0.12">0.3</text>
<text x="235.30" y="290.78" font-size="5.35" text-anchor="end" fill="#484848" font-family="Liberation Sans, Arial, sans-serif" stroke="#666" stroke-width="0.12">0.4</text>
<text x="235.30" y="278.05" font-size="5.35" text-anchor="end" fill="#484848" font-family="Liberation Sans, Arial, sans-serif" stroke="#666" stroke-width="0.12">0.5</text>
<text x="235.30" y="265.32" font-size="5.35" text-anchor="end" fill="#484848" font-family="Liberation Sans, Arial, sans-serif" stroke="#666" stroke-width="0.12">0.6</text>
<text x="235.30" y="252.59" font-size="5.35" text-anchor="end" fill="#484848" font-family="Liberation Sans, Arial, sans-serif" stroke="#666" stroke-width="0.12">0.7</text>
<text x="235.30" y="239.86" font-size="5.35" text-anchor="end" fill="#484848" font-family="Liberation Sans, Arial, sans-serif" stroke="#666" stroke-width="0.12">0.8</text>
<text x="235.30" y="227.13" font-size="5.35" text-anchor="end" fill="#484848" font-family="Liberation Sans, Arial, sans-serif" stroke="#666" stroke-width="0.12">0.9</text>
<text x="235.30" y="214.40" font-size="5.35" text-anchor="end" fill="#484848" font-family="Liberation Sans, Arial, sans-serif" stroke="#666" stroke-width="0.12">1</text>
<text x="250.99" y="346.80" font-size="5.35" text-anchor="middle" fill="#484848" font-family="Liberation Sans, Arial, sans-serif" stroke="#666" stroke-width="0.12">1</text>
<text x="277.98" y="346.80" font-size="5.35" text-anchor="middle" fill="#484848" font-family="Liberation Sans, Arial, sans-serif" stroke="#666" stroke-width="0.12">2</text>
<text x="304.96" y="346.80" font-size="5.35" text-anchor="middle" fill="#484848" font-family="Liberation Sans, Arial, sans-serif" stroke="#666" stroke-width="0.12">3</text>
<text x="331.94" y="346.80" font-size="5.35" text-anchor="middle" fill="#484848" font-family="Liberation Sans, Arial, sans-serif" stroke="#666" stroke-width="0.12">4</text>
<text x="358.92" y="346.80" font-size="5.35" text-anchor="middle" fill="#484848" font-family="Liberation Sans, Arial, sans-serif" stroke="#666" stroke-width="0.12">5</text>
<text x="385.91" y="346.80" font-size="5.35" text-anchor="middle" fill="#484848" font-family="Liberation Sans, Arial, sans-serif" stroke="#666" stroke-width="0.12">6</text>
<text x="318.95" y="209.00" font-size="5.5" font-weight="bold" text-anchor="middle" fill="#111" font-family="Liberation Sans, Arial, sans-serif" stroke="#666" stroke-width="0.12">Power Spectrum Comparison of P3P4</text>
<text x="318.95" y="353.70" font-size="5.6" text-anchor="middle" fill="#484848" font-family="Liberation Sans, Arial, sans-serif" stroke="#666" stroke-width="0.12">Time (Hour)</text>
<text transform="translate(225.30,276.45) rotate(-90)" font-size="5.5" text-anchor="middle" fill="#484848" font-family="Liberation Sans, Arial, sans-serif" stroke="#666" stroke-width="0.12">relative Power</text>
<text x="314.95" y="370.30" font-size="10" font-weight="bold" text-anchor="middle" fill="#222" font-family="Liberation Serif, serif">(c)</text>
<text x="338.10" y="221.60" font-size="4.5" fill="#333" font-family="Liberation Sans, Arial, sans-serif" stroke="#555" stroke-width="0.08" style="text-rendering:optimizeLegibility">Relative Power(Beanie data)</text>
<text x="338.10" y="227.40" font-size="4.5" fill="#333" font-family="Liberation Sans, Arial, sans-serif" stroke="#555" stroke-width="0.08" style="text-rendering:optimizeLegibility">Range(Stroke data)</text>
<text x="338.10" y="233.20" font-size="4.5" fill="#333" font-family="Liberation Sans, Arial, sans-serif" stroke="#555" stroke-width="0.08" style="text-rendering:optimizeLegibility">Median(Stroke data)</text>
<text x="18.30" y="515.90" font-size="5.35" text-anchor="end" fill="#484848" font-family="Liberation Sans, Arial, sans-serif" stroke="#666" stroke-width="0.12">0</text>
<text x="18.30" y="503.32" font-size="5.35" text-anchor="end" fill="#484848" font-family="Liberation Sans, Arial, sans-serif" stroke="#666" stroke-width="0.12">0.1</text>
<text x="18.30" y="490.74" font-size="5.35" text-anchor="end" fill="#484848" font-family="Liberation Sans, Arial, sans-serif" stroke="#666" stroke-width="0.12">0.2</text>
<text x="18.30" y="478.16" font-size="5.35" text-anchor="end" fill="#484848" font-family="Liberation Sans, Arial, sans-serif" stroke="#666" stroke-width="0.12">0.3</text>
<text x="18.30" y="465.58" font-size="5.35" text-anchor="end" fill="#484848" font-family="Liberation Sans, Arial, sans-serif" stroke="#666" stroke-width="0.12">0.4</text>
<text x="18.30" y="453.00" font-size="5.35" text-anchor="end" fill="#484848" font-family="Liberation Sans, Arial, sans-serif" stroke="#666" stroke-width="0.12">0.5</text>
<text x="18.30" y="440.42" font-size="5.35" text-anchor="end" fill="#484848" font-family="Liberation Sans, Arial, sans-serif" stroke="#666" stroke-width="0.12">0.6</text>
<text x="18.30" y="427.84" font-size="5.35" text-anchor="end" fill="#484848" font-family="Liberation Sans, Arial, sans-serif" stroke="#666" stroke-width="0.12">0.7</text>
<text x="18.30" y="415.26" font-size="5.35" text-anchor="end" fill="#484848" font-family="Liberation Sans, Arial, sans-serif" stroke="#666" stroke-width="0.12">0.8</text>
<text x="18.30" y="402.68" font-size="5.35" text-anchor="end" fill="#484848" font-family="Liberation Sans, Arial, sans-serif" stroke="#666" stroke-width="0.12">0.9</text>
<text x="18.30" y="390.10" font-size="5.35" text-anchor="end" fill="#484848" font-family="Liberation Sans, Arial, sans-serif" stroke="#666" stroke-width="0.12">1</text>
<text x="33.82" y="521.00" font-size="5.35" text-anchor="middle" fill="#484848" font-family="Liberation Sans, Arial, sans-serif" stroke="#666" stroke-width="0.12">1</text>
<text x="60.45" y="521.00" font-size="5.35" text-anchor="middle" fill="#484848" font-family="Liberation Sans, Arial, sans-serif" stroke="#666" stroke-width="0.12">2</text>
<text x="87.08" y="521.00" font-size="5.35" text-anchor="middle" fill="#484848" font-family="Liberation Sans, Arial, sans-serif" stroke="#666" stroke-width="0.12">3</text>
<text x="113.72" y="521.00" font-size="5.35" text-anchor="middle" fill="#484848" font-family="Liberation Sans, Arial, sans-serif" stroke="#666" stroke-width="0.12">4</text>
<text x="140.35" y="521.00" font-size="5.35" text-anchor="middle" fill="#484848" font-family="Liberation Sans, Arial, sans-serif" stroke="#666" stroke-width="0.12">5</text>
<text x="166.98" y="521.00" font-size="5.35" text-anchor="middle" fill="#484848" font-family="Liberation Sans, Arial, sans-serif" stroke="#666" stroke-width="0.12">6</text>
<text x="100.90" y="384.70" font-size="5.5" font-weight="bold" text-anchor="middle" fill="#111" font-family="Liberation Sans, Arial, sans-serif" stroke="#666" stroke-width="0.12">Power Spectrum Comparison of F3P3</text>
<text x="100.90" y="527.90" font-size="5.6" text-anchor="middle" fill="#484848" font-family="Liberation Sans, Arial, sans-serif" stroke="#666" stroke-width="0.12">Time (Hour)</text>
<text transform="translate(8.30,451.40) rotate(-90)" font-size="5.5" text-anchor="middle" fill="#484848" font-family="Liberation Sans, Arial, sans-serif" stroke="#666" stroke-width="0.12">relative Power</text>
<text x="96.90" y="544.60" font-size="10" font-weight="bold" text-anchor="middle" fill="#222" font-family="Liberation Serif, serif">(d)</text>
<text x="119.00" y="397.30" font-size="4.5" fill="#333" font-family="Liberation Sans, Arial, sans-serif" stroke="#555" stroke-width="0.08" style="text-rendering:optimizeLegibility">Relative Power(Beanie data)</text>
<text x="119.00" y="403.10" font-size="4.5" fill="#333" font-family="Liberation Sans, Arial, sans-serif" stroke="#555" stroke-width="0.08" style="text-rendering:optimizeLegibility">Range(Stroke data)</text>
<text x="119.00" y="408.90" font-size="4.5" fill="#333" font-family="Liberation Sans, Arial, sans-serif" stroke="#555" stroke-width="0.08" style="text-rendering:optimizeLegibility">Median(Stroke data)</text>
<text x="235.95" y="516.20" font-size="5.35" text-anchor="end" fill="#484848" font-family="Liberation Sans, Arial, sans-serif" stroke="#666" stroke-width="0.12">0</text>
<text x="235.95" y="503.53" font-size="5.35" text-anchor="end" fill="#484848" font-family="Liberation Sans, Arial, sans-serif" stroke="#666" stroke-width="0.12">0.1</text>
<text x="235.95" y="490.86" font-size="5.35" text-anchor="end" fill="#484848" font-family="Liberation Sans, Arial, sans-serif" stroke="#666" stroke-width="0.12">0.2</text>
<text x="235.95" y="478.19" font-size="5.35" text-anchor="end" fill="#484848" font-family="Liberation Sans, Arial, sans-serif" stroke="#666" stroke-width="0.12">0.3</text>
<text x="235.95" y="465.52" font-size="5.35" text-anchor="end" fill="#484848" font-family="Liberation Sans, Arial, sans-serif" stroke="#666" stroke-width="0.12">0.4</text>
<text x="235.95" y="452.85" font-size="5.35" text-anchor="end" fill="#484848" font-family="Liberation Sans, Arial, sans-serif" stroke="#666" stroke-width="0.12">0.5</text>
<text x="235.95" y="440.18" font-size="5.35" text-anchor="end" fill="#484848" font-family="Liberation Sans, Arial, sans-serif" stroke="#666" stroke-width="0.12">0.6</text>
<text x="235.95" y="427.51" font-size="5.35" text-anchor="end" fill="#484848" font-family="Liberation Sans, Arial, sans-serif" stroke="#666" stroke-width="0.12">0.7</text>
<text x="235.95" y="414.84" font-size="5.35" text-anchor="end" fill="#484848" font-family="Liberation Sans, Arial, sans-serif" stroke="#666" stroke-width="0.12">0.8</text>
<text x="235.95" y="402.17" font-size="5.35" text-anchor="end" fill="#484848" font-family="Liberation Sans, Arial, sans-serif" stroke="#666" stroke-width="0.12">0.9</text>
<text x="235.95" y="389.50" font-size="5.35" text-anchor="end" fill="#484848" font-family="Liberation Sans, Arial, sans-serif" stroke="#666" stroke-width="0.12">1</text>
<text x="251.60" y="521.30" font-size="5.35" text-anchor="middle" fill="#484848" font-family="Liberation Sans, Arial, sans-serif" stroke="#666" stroke-width="0.12">1</text>
<text x="278.51" y="521.30" font-size="5.35" text-anchor="middle" fill="#484848" font-family="Liberation Sans, Arial, sans-serif" stroke="#666" stroke-width="0.12">2</text>
<text x="305.42" y="521.30" font-size="5.35" text-anchor="middle" fill="#484848" font-family="Liberation Sans, Arial, sans-serif" stroke="#666" stroke-width="0.12">3</text>
<text x="332.33" y="521.30" font-size="5.35" text-anchor="middle" fill="#484848" font-family="Liberation Sans, Arial, sans-serif" stroke="#666" stroke-width="0.12">4</text>
<text x="359.24" y="521.30" font-size="5.35" text-anchor="middle" fill="#484848" font-family="Liberation Sans, Arial, sans-serif" stroke="#666" stroke-width="0.12">5</text>
<text x="386.15" y="521.30" font-size="5.35" text-anchor="middle" fill="#484848" font-family="Liberation Sans, Arial, sans-serif" stroke="#666" stroke-width="0.12">6</text>
<text x="319.38" y="384.10" font-size="5.5" font-weight="bold" text-anchor="middle" fill="#111" font-family="Liberation Sans, Arial, sans-serif" stroke="#666" stroke-width="0.12">Power Spectrum Comparison of F4P4</text>
<text x="319.38" y="528.20" font-size="5.6" text-anchor="middle" fill="#484848" font-family="Liberation Sans, Arial, sans-serif" stroke="#666" stroke-width="0.12">Time (Hour)</text>
<text transform="translate(225.95,451.25) rotate(-90)" font-size="5.5" text-anchor="middle" fill="#484848" font-family="Liberation Sans, Arial, sans-serif" stroke="#666" stroke-width="0.12">relative Power</text>
<text x="315.38" y="544.60" font-size="10" font-weight="bold" text-anchor="middle" fill="#222" font-family="Liberation Serif, serif">(e)</text>
<text x="338.30" y="396.70" font-size="4.5" fill="#333" font-family="Liberation Sans, Arial, sans-serif" stroke="#555" stroke-width="0.08" style="text-rendering:optimizeLegibility">Relative Power(Beanie data)</text>
<text x="338.30" y="402.50" font-size="4.5" fill="#333" font-family="Liberation Sans, Arial, sans-serif" stroke="#555" stroke-width="0.08" style="text-rendering:optimizeLegibility">Range(Stroke data)</text>
<text x="338.30" y="408.30" font-size="4.5" fill="#333" font-family="Liberation Sans, Arial, sans-serif" stroke="#555" stroke-width="0.08" style="text-rendering:optimizeLegibility">Median(Stroke data)</text>
</svg></body></html>
